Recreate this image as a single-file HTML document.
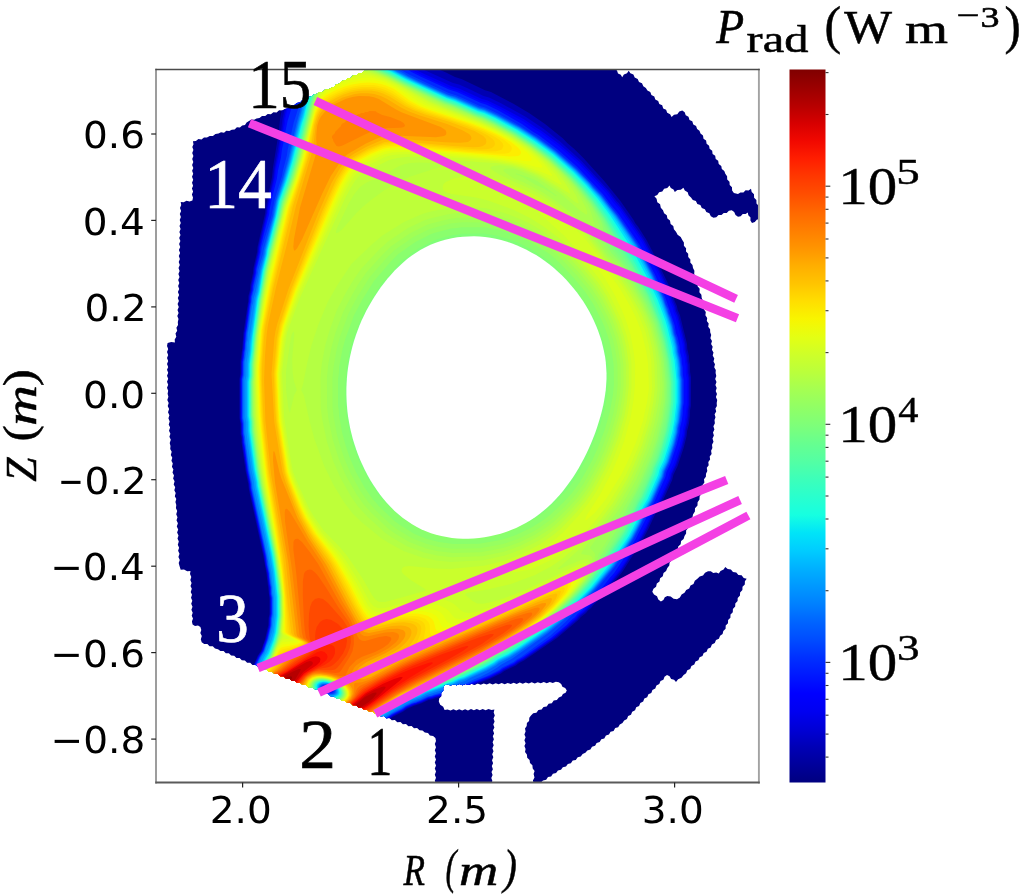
<!DOCTYPE html><html><head><meta charset="utf-8"><title>Prad</title><style>html,body{margin:0;padding:0;background:#fff}svg{display:block}text{font-family:"Liberation Serif","DejaVu Serif",serif}.tk{font-family:"DejaVu Sans","Liberation Sans",sans-serif;font-size:36.8px;fill:#000}</style></head><body>
<svg width="1025" height="895" viewBox="0 0 1025 895">
<defs>
<clipPath id="ves"><path clip-rule="evenodd" d="M370.0,69.0 367.4,70.7 364.2,70.8 361.9,73.1 358.6,73.2 356.3,75.5 353.0,75.6 350.7,77.9 347.7,78.5 345.2,80.6 341.8,81.1 339.6,83.8 336.3,84.3 334.1,86.9 331.0,88.0 328.3,89.7 325.0,89.7 322.5,91.9 319.1,91.9 316.6,94.1 313.5,94.7 311.1,96.7 307.8,97.1 305.6,99.6 302.4,100.1 300.2,102.6 296.9,103.0 294.5,105.0 291.1,105.8 288.4,108.2 285.0,109.0 282.3,110.5 279.1,110.3 276.6,112.4 273.4,112.2 270.9,114.3 267.7,114.1 265.2,116.1 262.0,116.0 259.5,118.0 256.5,118.4 254.2,119.8 251.3,119.6 249.0,121.0 246.6,122.6 245.0,125.0 242.2,125.4 239.9,127.5 236.9,127.3 234.6,129.4 231.8,129.8 229.3,131.1 226.3,130.7 224.0,132.7 221.0,132.3 218.5,133.6 215.4,134.0 212.9,136.1 209.7,135.9 207.0,137.4 204.0,137.6 201.5,139.5 198.4,139.1 195.9,141.0 192.9,141.2 193.5,144.2 192.3,147.1 193.4,150.1 192.2,153.1 193.4,156.0 192.2,159.0 193.3,162.0 192.1,164.9 193.3,167.9 192.1,170.8 193.2,173.8 192.0,176.8 193.2,179.8 192.0,182.7 193.1,185.7 191.9,188.6 193.1,191.6 191.9,194.6 193.0,197.5 192.4,200.5 189.6,201.5 186.5,200.7 183.7,202.2 180.7,202.0 181.2,205.0 180.0,208.0 181.1,211.0 179.8,214.0 180.9,217.0 179.7,220.0 180.8,223.0 179.5,226.0 180.6,229.0 179.4,232.0 180.5,235.0 179.2,238.0 180.4,241.0 179.1,244.0 180.2,247.0 178.9,250.0 180.1,253.0 178.8,256.0 179.9,259.0 178.7,262.0 179.8,265.0 178.5,268.0 179.6,271.0 178.4,274.0 179.5,277.0 178.2,280.0 179.3,283.0 178.1,286.0 179.2,289.0 177.9,292.0 179.1,295.0 177.8,298.0 178.9,301.0 177.6,304.0 178.8,307.0 177.5,310.0 178.6,313.0 177.3,316.0 178.5,319.0 177.8,322.0 178.0,325.0 176.4,327.7 177.2,330.8 175.5,333.6 176.3,336.7 174.7,339.4 174.9,342.4 171.2,342.1 167.6,343.0 167.0,346.0 168.2,349.0 167.0,351.9 168.2,354.9 167.0,357.9 168.2,360.9 167.0,363.9 168.2,366.9 167.0,369.8 168.2,372.8 167.0,375.8 168.2,378.8 167.0,381.8 168.2,384.8 167.0,387.7 168.2,390.7 167.6,393.7 168.4,396.7 167.3,399.9 168.7,402.9 167.7,406.0 169.1,409.0 168.0,412.2 169.4,415.2 168.4,418.3 169.7,421.4 168.7,424.5 170.1,427.5 169.0,430.7 170.4,433.7 169.4,436.8 170.8,439.8 169.7,443.0 170.5,446.0 170.2,449.0 171.7,451.8 170.8,454.9 172.3,457.7 171.4,460.8 172.8,463.6 171.9,466.7 173.4,469.5 172.5,472.6 174.0,475.4 173.1,478.5 174.6,481.3 173.7,484.4 175.2,487.2 174.3,490.3 175.7,493.1 174.8,496.2 176.3,499.0 175.4,502.1 176.3,505.0 175.9,508.1 177.2,511.1 176.2,514.2 177.5,517.2 176.5,520.3 177.9,523.3 176.8,526.4 178.2,529.4 177.1,532.5 178.5,535.5 177.5,538.6 178.8,541.6 177.8,544.7 179.1,547.7 178.1,550.8 179.5,553.8 178.4,556.9 179.8,559.9 178.7,563.0 179.5,566.0 180.7,569.7 184.0,569.5 187.2,571.2 190.5,571.0 190.0,574.0 191.3,576.9 190.3,580.0 191.6,582.9 190.5,585.9 191.8,588.8 190.7,591.9 192.0,594.8 191.0,597.8 192.3,600.8 191.2,603.8 192.5,606.7 191.4,609.7 192.7,612.7 191.7,615.7 193.0,618.6 191.9,621.6 192.6,624.6 195.0,626.0 198.0,625.6 200.4,627.0 201.3,630.0 200.3,633.1 201.8,636.1 200.8,639.2 201.7,642.2 204.2,643.9 207.4,644.0 209.6,646.3 212.8,646.3 215.0,648.6 218.0,649.2 220.4,650.9 223.6,651.0 225.8,653.3 228.9,653.3 231.1,655.6 234.2,655.7 236.4,658.0 239.6,658.0 241.8,660.3 244.9,660.4 247.1,662.7 250.2,662.7 252.4,665.0 255.6,665.1 258.0,666.8 261.0,667.4 263.4,669.6 266.7,669.6 269.0,671.8 272.3,671.8 274.7,674.0 277.9,674.0 280.3,676.2 283.6,676.2 285.9,678.5 289.2,678.5 291.6,680.7 294.8,680.7 297.2,682.9 300.4,682.9 302.8,685.1 306.1,685.1 308.4,687.3 311.7,687.3 314.3,689.0 317.3,689.6 319.6,691.8 322.8,691.8 325.2,694.0 328.4,694.1 330.7,696.3 333.9,696.3 336.3,698.5 339.5,698.5 341.8,700.8 345.0,700.8 347.3,703.0 350.6,703.0 352.9,705.3 356.1,705.3 358.4,707.5 361.7,707.5 364.0,709.8 367.2,709.8 369.5,712.0 372.8,712.0 375.3,713.7 378.3,714.1 380.7,716.3 383.8,716.1 386.2,718.2 389.4,718.1 391.8,720.2 394.9,720.1 397.3,722.2 400.5,722.1 402.9,724.2 406.0,724.1 408.4,726.2 411.6,726.1 414.0,728.2 417.1,728.0 419.5,730.2 422.5,730.6 424.8,732.6 428.0,733.0 429.9,735.6 433.1,736.0 435.4,738.0 436.0,741.1 434.8,744.1 436.0,747.2 434.8,750.2 436.0,753.3 434.8,756.4 436.0,759.4 434.8,762.5 436.0,765.5 434.8,768.6 436.0,771.6 434.8,774.7 436.0,777.8 434.8,780.8 436.0,783.9 434.8,786.9 435.4,790.0 438.4,790.6 441.4,789.4 444.4,790.6 447.5,789.4 450.5,790.6 453.5,789.4 456.5,790.6 459.5,789.4 462.5,790.6 465.5,789.4 468.6,790.6 471.6,789.4 474.6,790.6 477.6,789.4 480.6,790.6 483.6,789.4 486.6,790.6 489.7,789.4 492.7,790.6 495.7,789.4 498.7,790.6 501.7,789.4 504.7,790.6 507.7,789.4 510.8,790.6 513.8,789.4 516.8,790.6 519.8,789.4 522.8,790.6 525.8,789.4 528.8,790.6 531.9,789.4 534.9,790.6 537.9,789.4 540.9,790.0 540.3,786.2 540.9,782.5 543.0,780.4 546.2,779.7 548.0,777.1 551.1,776.4 552.9,773.8 556.1,773.1 557.9,770.5 561.0,769.8 562.8,767.2 566.0,766.5 567.8,763.9 570.9,763.2 572.7,760.6 575.8,759.9 577.7,757.3 580.8,756.6 582.6,754.0 585.4,752.8 587.3,750.5 590.4,749.5 592.0,746.7 595.1,745.8 596.6,743.0 599.7,742.1 601.3,739.3 604.3,738.4 605.9,735.6 609.0,734.6 610.5,731.8 613.6,730.9 615.2,728.1 618.2,727.2 619.8,724.4 622.5,723.0 624.1,720.4 627.0,719.0 628.1,716.0 631.0,714.7 632.2,711.7 635.1,710.3 636.2,707.3 639.1,706.0 640.3,703.0 643.2,701.6 644.3,698.6 647.2,697.2 648.4,694.2 651.3,692.9 652.4,689.9 655.3,688.5 656.4,685.5 659.3,684.1 660.5,681.1 663.4,679.8 664.5,676.8 667.0,675.0 669.6,676.3 671.1,679.0 674.1,679.8 676.0,682.0 678.1,679.2 681.5,677.8 683.6,675.0 686.1,673.3 687.3,670.3 690.2,668.9 691.4,666.0 694.3,664.6 695.5,661.6 698.4,660.3 699.6,657.3 702.5,656.0 703.7,653.0 706.6,651.7 707.8,648.7 710.7,647.4 711.9,644.4 714.8,643.0 716.0,640.1 718.9,638.7 720.1,635.7 722.6,634.0 723.3,631.0 725.6,628.7 725.7,625.5 728.0,623.2 728.1,620.0 730.4,617.7 730.5,614.4 732.8,612.2 732.9,608.9 735.2,606.6 735.3,603.4 737.6,601.1 737.7,597.9 740.0,595.6 740.1,592.4 742.4,590.1 742.5,586.8 744.8,584.6 744.9,581.3 746.7,578.8 743.7,577.9 741.6,575.3 738.4,574.9 736.3,572.4 733.0,572.0 730.9,569.4 727.7,569.0 725.3,567.0 723.6,569.6 720.5,570.9 718.8,573.5 716.2,572.4 713.3,573.0 710.8,571.3 708.0,571.3 705.0,572.7 703.0,575.5 699.7,576.4 697.4,578.8 694.8,580.7 693.5,583.9 690.5,585.4 689.2,588.5 686.2,590.1 684.5,592.8 681.6,594.5 679.9,597.5 677.0,599.2 673.6,598.7 670.7,596.5 667.3,596.0 664.8,597.3 663.4,600.1 660.9,601.4 658.3,599.4 657.0,596.2 654.0,594.5 652.3,591.7 653.5,588.7 656.1,586.8 656.8,583.5 659.5,581.5 660.1,578.2 662.8,576.2 663.5,572.9 666.1,571.0 667.3,568.0 669.3,565.6 669.6,562.4 672.1,560.3 672.5,557.0 675.0,555.0 675.4,551.7 677.9,549.6 678.2,546.4 680.7,544.3 681.1,541.0 683.6,539.0 684.5,536.0 686.1,533.5 686.1,530.4 688.2,528.1 688.2,525.0 690.4,522.7 690.3,519.6 692.5,517.3 693.0,514.4 694.9,511.6 695.0,508.2 697.5,505.6 697.6,502.2 699.5,499.4 699.6,496.4 701.5,493.8 701.1,490.7 703.0,488.1 702.5,485.0 704.4,482.4 704.0,479.3 705.9,476.7 706.0,473.7 707.3,471.0 706.8,467.8 708.7,465.3 708.3,462.1 710.1,459.6 709.7,456.4 711.6,453.9 711.1,450.7 712.4,448.0 712.0,444.8 713.5,441.8 712.5,438.6 713.9,435.6 713.0,432.4 714.4,429.4 713.4,426.2 714.9,423.2 714.5,420.0 715.5,417.2 714.6,414.3 716.2,411.6 715.4,408.6 716.9,405.9 716.7,403.0 717.2,400.0 715.9,397.0 717.0,394.0 715.7,391.0 716.7,388.0 715.4,385.0 716.5,382.0 715.2,379.0 716.3,376.0 715.6,373.0 715.8,370.0 714.2,367.3 715.0,364.2 713.5,361.5 714.3,358.4 712.7,355.6 713.5,352.6 711.9,349.8 712.7,346.8 711.1,344.0 712.0,340.9 710.4,338.2 711.2,335.1 710.2,332.3 710.1,329.3 708.2,326.7 708.7,323.6 706.8,321.0 707.2,317.9 705.4,315.3 705.8,312.1 704.0,309.6 704.4,306.4 702.5,303.9 703.0,300.7 701.7,298.0 701.4,294.8 699.4,292.2 699.7,288.8 697.6,286.2 697.9,282.8 695.9,280.2 696.2,276.8 694.2,274.2 694.4,270.8 693.0,268.0 692.5,265.0 690.3,262.6 690.4,259.4 688.2,257.0 688.2,253.8 686.0,251.4 686.1,248.2 683.9,245.8 683.9,242.6 682.3,240.0 680.7,236.9 677.6,234.8 676.0,231.7 673.9,229.3 673.3,226.0 670.6,223.9 670.0,220.6 667.4,218.6 666.8,215.3 664.1,213.2 663.0,210.2 660.8,207.7 660.1,204.3 657.3,202.2 656.6,198.8 654.4,196.3 657.3,195.0 659.1,192.2 662.3,191.4 664.1,188.7 667.3,187.9 669.5,185.6 670.8,188.1 673.5,189.5 674.8,192.0 677.4,190.0 680.8,189.7 683.4,187.7 684.8,190.5 687.7,192.2 688.6,195.3 691.0,197.4 692.8,199.9 695.9,201.0 697.3,204.0 700.4,205.1 701.8,208.0 704.9,209.2 706.3,212.1 709.4,213.3 710.8,216.2 713.5,217.8 716.3,217.3 718.5,215.1 721.5,215.1 723.7,212.9 726.7,212.9 728.9,210.7 731.7,210.2 734.2,211.9 735.5,215.0 738.0,216.7 740.7,216.2 742.7,214.0 745.6,214.0 747.8,212.4 748.3,215.3 750.5,217.5 750.4,220.6 752.0,223.0 754.8,222.1 756.7,219.7 759.5,218.8 758.9,215.5 760.1,212.3 759.5,209.0 758.8,205.9 756.5,203.5 756.4,200.1 754.1,197.7 754.0,194.3 751.7,191.9 751.0,188.8 748.6,190.4 745.6,190.3 743.4,192.5 740.4,192.4 738.0,194.0 733.9,193.1 732.1,190.6 732.0,187.3 729.7,185.1 729.5,181.8 727.2,179.6 727.1,176.3 725.3,173.8 724.3,171.0 721.8,169.0 721.3,165.9 718.7,164.0 718.2,160.8 715.7,158.9 715.2,155.8 712.6,153.9 712.2,150.7 709.6,148.8 709.1,145.7 706.6,143.8 706.1,140.6 703.5,138.7 703.0,135.6 700.5,133.6 699.5,130.8 697.1,128.9 696.1,125.9 693.3,124.4 692.3,121.3 689.5,119.9 688.5,116.8 685.7,115.3 684.7,112.3 682.3,110.4 679.3,111.5 677.3,114.2 674.0,114.8 671.6,116.9 670.1,114.3 667.2,112.8 666.1,109.8 663.2,108.4 662.2,105.3 659.3,103.9 658.2,100.9 655.3,99.5 654.3,96.4 651.4,95.0 650.3,92.0 647.4,90.5 645.9,87.9 643.3,86.2 642.0,83.2 639.0,81.9 637.7,78.9 634.7,77.6 633.4,74.6 630.4,73.3 628.7,70.7 627.0,73.3 623.9,74.6 622.2,77.2 620.8,74.7 618.0,73.5 617.0,70.6 614.7,69.0 611.7,68.4 608.7,69.6 605.7,68.4 602.8,69.6 599.8,68.4 596.8,69.6 593.8,68.4 590.8,69.6 587.8,68.4 584.9,69.6 581.9,68.4 578.9,69.6 575.9,68.4 572.9,69.6 569.9,68.4 567.0,69.6 564.0,68.4 561.0,69.6 558.0,68.4 555.0,69.6 552.0,68.4 549.0,69.6 546.1,68.4 543.1,69.6 540.1,68.4 537.1,69.6 534.1,68.4 531.1,69.6 528.2,68.4 525.2,69.6 522.2,68.4 519.2,69.6 516.2,68.4 513.2,69.6 510.3,68.4 507.3,69.6 504.3,68.4 501.3,69.6 498.3,68.4 495.3,69.6 492.4,68.4 489.4,69.6 486.4,68.4 483.4,69.6 480.4,68.4 477.4,69.6 474.4,68.4 471.5,69.6 468.5,68.4 465.5,69.6 462.5,68.4 459.5,69.6 456.5,68.4 453.6,69.6 450.6,68.4 447.6,69.6 444.6,68.4 441.6,69.6 438.6,68.4 435.7,69.6 432.7,68.4 429.7,69.6 426.7,68.4 423.7,69.6 420.7,68.4 417.7,69.6 414.8,68.4 411.8,69.6 408.8,68.4 405.8,69.6 402.8,68.4 399.8,69.6 396.9,68.4 393.9,69.6 390.9,68.4 387.9,69.6 384.9,68.4 381.9,69.6 379.0,68.4 376.0,69.6 373.0,68.4ZM444.6,685.0 447.6,684.3 450.6,685.5 453.6,684.2 456.6,685.3 459.6,684.0 462.6,685.2 465.6,683.9 468.7,685.0 471.6,683.8 474.7,684.9 477.6,683.6 480.7,684.7 483.7,683.5 486.7,684.6 489.7,683.3 492.7,684.5 495.7,683.2 498.7,684.3 501.7,683.1 504.7,684.2 507.7,682.9 510.7,684.0 513.7,682.8 516.7,683.9 519.7,682.6 522.8,683.8 525.7,682.5 528.8,683.6 531.7,682.3 534.8,683.5 537.7,682.2 540.8,683.3 543.8,682.1 546.8,683.2 549.8,681.9 552.8,683.0 555.8,681.8 558.8,682.3 561.2,683.9 562.4,686.8 565.2,688.0 566.8,690.5 565.6,692.8 562.9,694.0 561.7,696.3 558.8,697.4 556.9,700.0 553.7,700.6 551.8,703.2 548.6,703.7 546.7,706.4 543.5,706.9 541.6,709.5 538.4,710.1 536.4,712.7 533.2,713.3 531.0,715.4 529.3,717.8 529.1,720.9 526.9,723.0 526.7,726.1 525.0,728.5 525.6,731.4 524.4,734.4 525.6,737.3 524.4,740.2 525.6,743.2 524.4,746.1 525.6,749.1 525.0,752.0 526.9,754.4 527.2,757.7 529.6,759.9 530.0,763.1 532.4,765.3 532.7,768.6 534.6,771.0 533.6,774.1 534.5,777.4 532.9,780.4 533.7,783.7 532.2,786.8 532.4,790.0 529.5,789.4 526.6,790.6 523.6,789.4 520.7,790.6 517.8,789.4 514.9,790.6 511.9,789.4 509.0,790.6 506.1,789.4 503.2,790.6 500.3,789.4 497.3,790.6 494.4,789.4 491.5,790.0 492.2,787.0 491.1,784.0 492.4,781.1 491.3,778.1 492.6,775.1 491.5,772.1 492.9,769.2 491.8,766.1 493.1,763.2 492.0,760.2 493.3,757.2 492.2,754.2 493.5,751.3 492.4,748.2 493.7,745.3 492.6,742.3 493.9,739.3 492.8,736.3 494.1,733.4 493.0,730.3 494.4,727.4 493.3,724.4 494.6,721.4 493.5,718.4 494.8,715.5 493.7,712.5 494.4,709.5 491.5,710.1 488.5,709.0 485.6,710.2 482.7,709.0 479.8,710.2 476.8,709.1 473.9,710.3 471.0,709.1 468.0,710.4 465.1,709.2 462.2,710.4 459.2,709.3 456.3,710.5 453.4,709.3 450.5,710.5 447.5,709.4 444.6,710.0 443.2,706.8 440.2,704.7 438.8,701.5 439.2,698.6 441.3,696.2 441.1,693.1 443.2,690.7 443.1,687.6Z"/></clipPath>
<clipPath id="frm"><rect x="156.0" y="69.5" width="602.9" height="713.0"/></clipPath>
<linearGradient id="jet" x1="0" y1="0" x2="0" y2="1"><stop offset="0.000" stop-color="#800000"/><stop offset="0.025" stop-color="#9b0000"/><stop offset="0.050" stop-color="#b60000"/><stop offset="0.075" stop-color="#d60000"/><stop offset="0.100" stop-color="#f10800"/><stop offset="0.125" stop-color="#ff1e00"/><stop offset="0.150" stop-color="#ff3800"/><stop offset="0.175" stop-color="#ff4e00"/><stop offset="0.200" stop-color="#ff6800"/><stop offset="0.225" stop-color="#ff7e00"/><stop offset="0.250" stop-color="#ff9400"/><stop offset="0.275" stop-color="#ffae00"/><stop offset="0.300" stop-color="#ffc400"/><stop offset="0.325" stop-color="#ffde00"/><stop offset="0.350" stop-color="#f8f500"/><stop offset="0.375" stop-color="#e4ff13"/><stop offset="0.400" stop-color="#ceff29"/><stop offset="0.425" stop-color="#baff3c"/><stop offset="0.450" stop-color="#a4ff53"/><stop offset="0.475" stop-color="#90ff66"/><stop offset="0.500" stop-color="#7dff7a"/><stop offset="0.525" stop-color="#66ff90"/><stop offset="0.550" stop-color="#53ffa4"/><stop offset="0.575" stop-color="#3cffba"/><stop offset="0.600" stop-color="#29ffce"/><stop offset="0.625" stop-color="#16ffe1"/><stop offset="0.650" stop-color="#00e4f8"/><stop offset="0.675" stop-color="#00ccff"/><stop offset="0.700" stop-color="#00b0ff"/><stop offset="0.725" stop-color="#0098ff"/><stop offset="0.750" stop-color="#0080ff"/><stop offset="0.775" stop-color="#0064ff"/><stop offset="0.800" stop-color="#004cff"/><stop offset="0.825" stop-color="#0030ff"/><stop offset="0.850" stop-color="#0018ff"/><stop offset="0.875" stop-color="#0000ff"/><stop offset="0.900" stop-color="#0000f1"/><stop offset="0.925" stop-color="#0000d6"/><stop offset="0.950" stop-color="#0000b6"/><stop offset="0.975" stop-color="#00009b"/><stop offset="1.000" stop-color="#000080"/></linearGradient>
</defs>
<rect width="1025" height="895" fill="#fff"/>
<g clip-path="url(#frm)"><g clip-path="url(#ves)">
<rect x="150" y="60" width="620" height="730" fill="#000080"/>
<path fill="#0000b2" d="M328.2,31.0 330.6,30.0 356.7,30.0 360.0,31.5 365.0,32.6 382.0,39.7 387.0,43.0 394.0,46.0 398.0,48.7 404.0,51.7 419.5,61.0 446.0,72.5 455.0,77.0 462.0,79.3 485.0,90.3 491.0,92.1 513.0,103.5 529.0,112.9 545.0,124.1 563.0,138.6 567.2,143.0 574.0,148.7 583.4,158.0 604.0,180.8 620.4,201.0 633.6,220.0 635.1,223.0 638.3,227.0 646.5,240.0 652.3,251.0 669.7,287.0 672.6,294.0 674.7,301.0 676.9,306.0 677.7,310.0 679.9,315.0 687.0,344.0 687.3,349.0 689.0,356.0 689.2,361.0 689.9,364.0 690.1,372.0 691.0,377.0 690.9,406.0 690.1,410.0 689.9,416.0 688.9,424.0 687.1,431.0 686.6,436.0 683.6,448.0 677.6,466.0 673.3,475.0 672.2,480.0 661.2,504.0 658.7,509.0 655.0,514.5 648.3,529.0 640.8,543.0 622.2,572.0 603.4,595.0 593.4,605.0 591.1,608.0 588.0,610.4 586.0,613.0 580.9,617.0 578.0,620.3 557.0,638.0 524.0,660.5 519.2,663.0 516.0,665.5 504.3,671.0 501.0,673.4 489.0,679.3 473.7,685.0 467.0,688.2 462.7,689.0 456.0,692.2 451.6,693.0 446.0,695.5 443.0,695.9 432.0,699.5 428.6,700.0 421.0,703.6 413.5,706.0 406.8,709.0 403.0,711.7 393.0,716.8 388.6,720.0 387.8,721.0 387.6,726.0 386.7,730.0 386.6,742.0 385.7,746.0 385.6,758.0 384.7,762.0 384.6,774.0 383.7,778.0 383.6,790.0 382.7,794.0 382.6,800.0 369.0,800.0 201.0,762.4 199.0,761.6 198.1,760.0 199.1,757.0 237.0,700.1 256.0,660.1 257.5,656.0 261.0,651.0 265.0,639.2 268.3,625.0 268.6,618.0 269.5,614.0 269.5,599.0 266.5,574.0 263.3,556.0 248.8,489.0 248.3,484.0 245.6,471.0 241.6,443.0 241.5,438.0 240.6,434.0 240.5,424.0 239.5,418.0 239.5,379.0 240.4,374.0 240.5,361.0 242.3,348.0 243.4,333.0 248.2,301.0 248.4,296.0 250.0,290.0 250.4,285.0 253.0,273.0 253.4,268.0 257.1,252.0 257.5,247.0 265.2,213.0 265.6,208.0 272.0,177.3 272.9,168.0 278.3,135.0 280.2,118.0 283.5,100.0 287.2,85.0 292.6,71.0 298.4,59.0 303.0,51.3 307.8,45.0 317.0,36.3 324.0,32.4Z"/>
<path fill="#0000d6" d="M333.3,35.0 337.0,34.2 345.0,34.0 355.0,35.9 364.0,38.4 380.0,45.3 383.9,48.0 391.0,51.1 404.0,59.1 411.0,62.7 414.1,65.0 422.1,69.0 453.0,82.9 459.0,84.6 467.0,88.1 483.6,96.0 489.0,97.5 501.0,103.2 526.0,117.0 542.5,128.0 560.6,142.0 581.0,160.4 609.0,190.7 616.7,201.0 618.8,203.0 640.4,234.0 644.9,241.0 651.3,253.0 668.2,288.0 675.5,307.0 676.0,310.5 678.5,316.0 685.4,344.0 685.8,350.0 687.5,357.0 687.6,361.0 688.5,365.0 688.6,373.0 689.5,377.0 689.5,405.0 688.6,410.0 688.5,416.0 687.5,423.0 685.7,430.0 685.3,435.0 682.3,447.0 676.3,465.0 672.0,474.0 670.9,479.0 659.5,504.0 657.5,508.0 654.0,513.1 646.6,529.0 639.6,542.0 621.1,571.0 602.3,594.0 585.0,612.0 579.8,616.0 577.0,619.4 556.0,637.2 524.0,659.2 518.7,662.0 515.0,664.8 503.9,670.0 500.0,672.8 489.0,678.2 473.6,684.0 467.0,687.2 462.8,688.0 455.0,691.6 451.8,692.0 446.0,694.6 435.8,697.0 432.0,698.6 428.8,699.0 422.0,702.2 413.8,705.0 406.9,708.0 403.0,710.8 393.0,715.8 387.3,720.0 385.8,730.0 385.7,742.0 384.8,746.0 384.7,758.0 383.8,762.0 383.7,774.0 382.8,778.0 382.7,790.0 381.8,794.0 381.7,800.0 371.0,799.8 365.0,797.9 209.0,763.5 200.0,761.3 199.0,760.0 200.0,757.0 238.0,699.7 258.3,656.0 262.0,650.4 263.4,645.0 266.0,638.4 269.1,625.0 269.3,618.0 270.2,614.0 270.2,598.0 269.3,594.0 269.1,587.0 268.3,584.0 267.1,573.0 265.5,566.0 264.1,556.0 249.5,489.0 249.1,484.0 246.3,471.0 246.1,467.0 242.3,443.0 242.1,437.0 241.3,434.0 241.2,424.0 240.3,419.0 240.3,379.0 241.2,374.0 241.3,361.0 242.1,358.0 242.2,352.0 243.2,348.0 243.2,342.0 244.0,339.0 244.2,333.0 245.0,330.0 248.3,304.0 249.0,301.7 249.3,296.0 251.0,289.9 251.3,285.0 254.0,273.0 254.4,268.0 258.1,252.0 258.5,247.0 266.4,213.0 266.8,208.0 273.2,178.0 274.4,168.0 280.5,135.0 282.5,119.0 286.3,101.0 290.3,86.0 295.5,73.0 301.6,61.0 306.0,54.0 311.0,47.7 320.0,39.8 326.0,36.8Z"/>
<path fill="#0000f6" d="M337.3,37.0 344.0,36.9 354.0,38.9 358.0,40.4 362.0,41.1 370.0,44.4 378.0,48.0 382.4,51.0 389.0,53.9 392.0,56.1 399.0,59.7 402.0,62.0 409.0,65.6 412.1,68.0 422.2,73.0 451.0,86.0 459.0,88.5 482.0,99.1 487.0,100.3 500.0,106.4 524.0,119.3 536.0,127.6 541.0,130.4 559.2,144.0 580.0,162.3 608.0,192.0 615.3,202.0 620.0,207.2 643.3,241.0 650.0,253.4 667.0,288.5 670.2,296.0 671.8,302.0 674.2,307.0 674.8,311.0 677.1,316.0 684.3,345.0 684.5,350.0 686.3,357.0 686.5,362.0 687.3,365.0 687.4,373.0 688.4,378.0 688.4,405.0 687.5,409.0 687.3,416.0 686.5,419.0 686.3,423.0 684.5,430.0 684.3,434.0 681.1,447.0 675.1,465.0 670.8,474.0 670.0,478.2 658.7,503.0 656.2,508.0 653.3,512.0 646.0,527.7 638.4,542.0 636.0,545.0 628.4,558.0 620.0,570.7 601.9,593.0 584.6,611.0 579.0,615.5 576.1,619.0 573.0,621.2 567.0,627.1 560.4,632.0 552.0,639.2 523.0,658.9 518.0,661.6 514.0,664.5 503.0,669.7 500.0,671.9 489.0,677.5 473.0,683.6 467.0,686.5 462.0,687.6 455.0,690.9 451.0,691.6 446.0,693.9 428.0,698.7 422.0,701.6 413.0,704.7 406.0,707.8 403.0,710.1 393.3,715.0 387.0,719.4 386.3,721.0 386.2,726.0 385.3,730.0 385.2,741.0 384.3,746.0 384.2,757.0 383.3,762.0 383.2,773.0 382.3,778.0 382.2,789.0 381.3,794.0 381.1,800.0 375.1,800.0 365.0,797.4 209.0,762.9 201.0,761.0 199.7,760.0 200.6,757.0 238.0,700.8 258.4,657.0 262.3,651.0 266.3,639.0 269.6,625.0 269.8,618.0 270.7,614.0 270.7,598.0 269.8,594.0 269.7,588.0 267.6,573.0 265.8,565.0 264.6,556.0 249.9,488.0 249.6,484.0 246.9,471.0 242.9,443.0 242.6,437.0 241.9,434.0 241.8,424.0 240.8,419.0 240.8,379.0 241.7,374.0 241.8,361.0 243.7,348.0 244.8,333.0 249.5,302.0 249.8,297.0 251.6,290.0 251.8,286.0 254.7,273.0 254.9,269.0 258.8,252.0 259.3,247.0 267.2,213.0 267.4,209.0 274.1,178.0 275.2,169.0 278.8,152.0 280.2,142.0 281.7,136.0 284.0,119.0 288.0,101.0 291.9,87.0 299.6,69.0 308.1,55.0 313.0,49.2 320.0,43.0 324.0,40.6 327.0,39.3ZM327.0,687.8 326.2,688.0 326.0,689.0 327.0,690.0 329.0,690.4 330.0,690.0 329.9,689.0 329.0,688.3Z"/>
<path fill="#0008ff" d="M336.2,39.0 344.0,38.8 353.0,40.7 357.0,42.2 361.0,42.8 368.6,46.0 377.0,49.7 381.0,52.5 388.0,55.6 391.2,58.0 398.0,61.4 401.4,64.0 408.0,67.3 411.6,70.0 422.0,75.2 451.0,88.5 458.0,90.5 482.0,101.5 487.0,102.6 500.0,108.8 524.0,121.8 535.0,129.5 540.0,132.2 558.5,146.0 579.0,164.0 606.0,192.7 613.6,203.0 618.2,208.0 641.8,242.0 649.0,255.3 665.0,288.3 668.3,296.0 670.4,303.0 672.7,308.0 673.4,312.0 675.7,317.0 682.7,345.0 683.1,351.0 684.8,358.0 685.0,362.0 685.8,366.0 685.9,374.0 686.8,378.0 686.9,404.0 684.8,422.0 683.1,429.0 682.6,434.0 679.6,446.0 674.0,463.1 669.4,473.0 668.0,479.0 657.0,503.4 655.0,507.3 652.3,511.0 645.0,527.0 637.0,542.0 635.3,544.0 627.1,558.0 619.2,570.0 600.5,593.0 583.3,611.0 578.0,615.2 575.9,618.0 555.0,636.0 523.0,658.2 518.0,660.8 514.0,663.7 503.0,668.9 500.0,671.2 488.6,677.0 473.0,682.9 466.0,686.3 462.0,687.0 455.0,690.3 451.1,691.0 446.0,693.4 443.0,693.8 432.0,697.4 428.0,698.1 421.0,701.5 413.0,704.2 406.0,707.3 403.0,709.5 392.3,715.0 386.7,719.0 385.8,721.0 385.7,726.0 384.8,730.0 384.7,741.0 383.8,746.0 383.7,757.0 382.7,762.0 382.7,773.0 381.7,778.0 381.7,789.0 380.8,793.0 380.3,800.0 376.5,800.0 374.0,798.9 365.0,796.8 209.0,762.5 201.0,760.5 200.2,759.0 238.4,701.0 258.8,657.0 262.7,651.0 267.0,638.2 270.1,625.0 270.2,618.0 271.1,614.0 271.1,598.0 270.2,594.0 270.1,587.0 269.3,584.0 268.1,573.0 266.3,565.0 265.1,556.0 250.3,488.0 250.1,484.0 247.3,471.0 244.1,446.0 243.3,443.0 243.1,437.0 242.3,434.0 242.2,424.0 241.2,419.0 241.2,379.0 242.2,374.0 242.3,361.0 243.1,358.0 243.3,352.0 244.1,349.0 245.3,333.0 246.1,330.0 249.2,305.0 250.1,302.0 250.3,297.0 252.1,290.0 252.4,286.0 255.3,273.0 255.5,269.0 259.5,252.0 259.7,248.0 267.8,214.0 268.3,209.0 275.1,178.0 276.3,169.0 279.9,152.0 280.1,148.0 282.8,136.0 283.0,132.0 284.9,124.0 285.1,120.0 289.2,102.0 293.6,87.0 299.0,74.1 305.0,62.9 309.5,56.0 314.0,50.8 323.3,43.0 327.6,41.0ZM325.0,686.8 324.0,688.0 324.3,689.0 326.0,690.7 329.0,691.8 331.7,691.0 331.6,689.0 330.0,687.5 327.0,686.5Z"/>
<path fill="#0028ff" d="M340.2,42.0 343.0,42.0 352.0,43.7 356.0,45.0 360.0,45.6 376.0,52.0 380.0,54.6 387.0,57.6 390.0,59.7 396.9,63.0 400.0,65.3 407.3,69.0 411.0,71.7 421.0,76.7 449.0,89.6 457.0,92.1 481.0,103.1 486.0,104.4 497.5,110.0 522.0,123.9 533.3,132.0 538.5,135.0 557.0,148.9 577.4,167.0 602.8,194.0 611.0,205.0 618.6,214.0 639.7,245.0 654.7,274.0 665.5,298.0 674.6,325.0 676.0,333.0 677.6,337.0 679.6,346.0 680.0,352.0 681.6,358.0 682.0,364.0 682.7,367.0 682.9,375.0 683.8,380.0 683.8,403.0 683.0,407.0 682.7,414.0 681.8,421.0 680.0,428.0 679.6,433.0 676.6,445.0 670.7,463.0 666.5,472.0 665.4,477.0 654.3,502.0 649.0,511.0 645.7,519.0 635.7,539.0 625.5,556.0 614.2,573.0 609.7,578.0 599.0,592.0 582.3,610.0 577.5,614.0 575.0,617.3 572.0,619.5 566.6,625.0 550.9,638.0 523.0,657.2 517.0,660.6 513.9,663.0 503.0,668.2 499.1,671.0 489.0,676.1 473.0,682.3 466.0,685.7 462.0,686.4 455.0,689.7 451.0,690.4 446.0,692.8 435.0,695.5 431.6,697.0 428.0,697.6 421.0,700.9 413.0,703.6 406.0,706.7 403.0,709.0 392.0,714.7 386.0,719.0 384.3,730.0 384.3,741.0 383.3,746.0 383.2,757.0 382.3,762.0 382.2,773.0 381.3,778.0 381.2,790.0 380.3,793.0 380.0,798.8 379.0,799.8 210.0,762.3 201.2,760.0 200.7,759.0 239.4,700.0 259.3,657.0 263.1,651.0 267.2,639.0 270.5,625.0 270.6,618.0 271.5,614.0 271.5,598.0 270.6,594.0 270.5,587.0 269.7,584.0 268.5,573.0 266.7,565.0 265.5,556.0 250.7,488.0 250.5,484.0 247.7,471.0 244.5,446.0 243.7,443.0 243.5,437.0 242.7,434.0 242.6,424.0 241.7,419.0 241.7,379.0 242.5,375.0 242.6,362.0 243.5,358.0 243.7,352.0 244.5,349.0 245.7,333.0 246.5,330.0 249.7,305.0 250.6,302.0 250.8,297.0 252.7,290.0 252.9,286.0 255.9,273.0 256.1,269.0 257.8,263.0 260.2,252.0 260.5,248.0 263.9,234.0 269.2,214.0 269.5,210.0 271.8,199.0 276.8,179.0 278.1,170.0 280.9,158.0 282.0,149.0 284.8,137.0 285.1,133.0 287.6,121.0 291.8,107.0 299.0,87.0 303.7,76.0 309.4,65.0 313.7,58.0 319.0,52.1 326.0,46.2 333.0,43.5ZM324.0,686.0 322.9,687.0 322.7,688.0 323.7,690.0 325.0,691.1 327.0,692.2 330.0,692.7 332.0,692.3 333.0,691.5 333.2,690.0 332.8,689.0 330.7,687.0 327.0,685.7Z"/>
<path fill="#0044ff" d="M338.9,48.0 342.0,47.7 358.0,50.7 373.0,56.2 395.0,66.6 410.1,75.0 435.6,87.0 448.7,93.0 456.0,95.2 463.0,98.2 479.8,106.0 485.0,107.4 498.0,113.6 520.0,125.7 532.4,134.0 537.0,136.5 556.0,150.4 577.0,168.7 601.9,195.0 610.0,205.9 617.6,215.0 638.1,245.0 653.7,275.0 663.7,297.0 666.0,304.4 668.1,309.0 669.0,313.3 671.1,318.0 673.4,326.0 674.9,334.0 676.4,338.0 678.4,347.0 678.7,352.0 680.4,359.0 681.4,367.0 681.6,375.0 682.5,380.0 682.5,403.0 680.4,421.0 678.7,428.0 678.4,432.0 675.2,445.0 669.3,463.0 665.0,472.0 663.9,477.0 652.7,502.0 648.0,509.5 641.4,524.0 633.5,539.0 614.9,567.0 596.0,590.1 565.0,622.6 550.0,636.0 521.1,657.0 517.0,659.2 513.4,662.0 502.0,667.5 498.9,670.0 487.1,676.0 473.0,681.5 465.8,685.0 462.0,685.6 455.0,689.0 451.0,689.8 446.0,692.1 428.0,697.0 416.0,702.4 412.0,703.5 406.0,706.2 402.1,709.0 392.0,714.1 386.0,718.3 385.0,720.0 384.6,726.0 383.8,730.0 383.7,741.0 382.7,746.0 382.7,757.0 381.7,762.0 381.7,773.0 380.7,778.0 380.7,789.0 379.4,798.0 379.0,798.7 378.0,798.8 210.0,761.8 202.0,759.7 201.3,759.0 203.0,755.8 239.4,701.0 259.7,657.0 263.6,651.0 267.6,639.0 270.7,626.0 271.0,618.5 271.9,614.0 271.9,598.0 271.1,594.0 270.9,587.0 270.1,584.0 268.9,573.0 267.1,565.0 265.8,555.0 251.2,488.0 251.0,484.0 248.2,471.0 243.1,433.0 243.1,424.0 242.1,418.0 242.1,379.0 243.0,375.0 243.1,362.0 245.0,349.0 246.2,333.0 251.1,302.0 251.4,297.0 253.3,290.0 253.6,286.0 256.7,273.0 256.9,269.0 261.1,253.0 261.8,248.0 271.0,217.7 274.5,200.0 282.0,175.7 282.8,171.0 287.0,155.0 287.6,150.0 293.6,123.0 304.4,89.0 309.3,77.0 318.4,61.0 323.0,56.1 329.0,51.0ZM325.0,684.9 323.0,685.5 321.7,687.0 322.0,689.0 323.7,691.0 326.0,692.5 329.0,693.4 332.0,693.3 334.0,692.1 334.3,690.0 332.0,687.1 329.0,685.5Z"/>
<path fill="#0064ff" d="M337.9,50.0 341.0,49.4 350.0,50.7 358.0,52.5 366.0,55.3 384.0,63.3 404.0,73.4 407.9,76.0 433.6,88.0 449.0,94.9 455.0,96.6 462.0,99.5 479.0,107.3 484.0,108.5 497.0,114.5 520.0,126.9 537.0,137.7 555.0,150.8 576.0,168.9 589.9,183.0 593.0,187.0 601.0,195.2 616.6,215.0 637.1,245.0 653.3,276.0 663.2,298.0 665.0,304.0 667.2,309.0 668.0,313.0 670.2,318.0 672.5,326.0 674.0,333.9 675.5,338.0 677.5,347.0 677.8,352.0 679.5,359.0 680.5,367.0 680.7,375.0 681.6,380.0 681.6,403.0 679.5,421.0 677.8,428.0 677.5,432.0 674.6,444.0 668.7,462.0 664.5,471.0 663.0,477.0 652.2,501.0 647.0,509.6 640.4,524.0 632.4,539.0 614.0,566.4 594.3,590.0 578.0,606.6 573.8,610.0 563.9,620.0 548.0,633.3 512.0,658.8 501.0,664.7 497.0,667.8 489.0,672.5 480.1,677.0 472.0,680.2 465.0,683.8 461.0,684.7 454.5,688.0 451.0,688.7 446.0,691.1 434.0,694.4 431.0,695.7 427.0,696.5 420.0,700.0 412.0,702.8 406.0,705.5 400.8,709.0 392.0,713.4 385.4,718.0 384.3,720.0 384.0,726.0 383.2,729.0 383.0,741.0 382.1,745.0 382.0,757.0 381.1,761.0 381.0,773.0 380.1,777.0 380.0,789.0 379.2,792.0 378.8,797.0 378.0,797.8 255.0,771.3 210.0,761.3 202.2,759.0 202.3,758.0 204.0,755.2 239.5,702.0 260.0,657.4 263.6,652.0 268.1,639.0 271.4,625.0 271.5,619.0 272.4,614.0 272.4,598.0 271.6,594.0 271.4,587.0 269.6,577.0 269.4,573.0 267.7,565.0 267.5,561.0 266.3,555.0 251.8,488.0 251.6,484.0 248.8,471.0 245.6,446.0 244.8,443.0 244.6,437.0 243.7,433.0 243.6,423.0 242.7,418.0 242.7,379.0 243.6,375.0 243.7,362.0 244.6,358.0 244.8,352.0 245.6,349.0 245.7,343.0 246.7,339.0 246.9,333.0 247.7,330.0 251.0,305.0 251.8,302.0 252.0,297.9 257.8,274.0 258.3,270.0 263.0,254.0 263.6,250.0 273.0,215.4 273.5,211.0 275.7,201.0 282.1,181.0 288.0,160.0 296.6,123.0 305.8,90.0 311.1,77.0 319.7,62.0 323.2,58.0 330.0,52.3ZM323.0,684.6 321.0,686.0 320.7,688.0 321.7,690.0 324.0,692.1 327.0,693.6 330.0,694.2 333.0,693.9 335.0,692.4 335.4,691.0 335.0,689.6 332.0,686.4 327.0,684.4Z"/>
<path fill="#0084ff" d="M338.3,51.0 341.0,50.5 350.0,51.9 358.0,53.6 366.0,56.4 393.0,68.8 397.0,71.4 418.3,82.0 447.0,95.1 455.0,97.6 479.0,108.2 485.0,109.9 497.0,115.5 519.0,127.3 536.0,138.0 555.0,151.8 576.0,169.9 589.0,183.0 593.0,188.0 600.8,196.0 608.9,207.0 616.4,216.0 636.8,246.0 652.0,275.2 662.4,298.0 671.7,326.0 673.3,334.0 674.7,338.0 676.7,347.0 677.1,352.0 678.9,360.0 679.9,368.0 680.0,375.0 680.8,380.0 680.9,403.0 678.8,421.0 677.1,428.0 676.8,432.0 673.8,444.0 668.0,462.0 663.7,471.0 662.2,477.0 651.4,501.0 647.0,508.0 639.6,524.0 632.1,538.0 613.3,566.0 594.0,589.1 578.0,605.3 573.0,609.3 563.0,619.3 547.0,632.4 519.0,651.8 510.0,657.5 499.0,663.0 496.0,665.4 487.0,670.6 470.3,678.0 465.0,680.9 460.0,682.4 454.0,685.6 449.1,687.0 444.0,689.5 427.0,695.1 420.0,698.6 412.0,701.6 405.0,704.9 402.0,707.1 392.0,712.4 385.0,717.1 383.6,719.0 381.9,729.0 381.7,740.0 380.7,745.0 380.6,756.0 379.7,761.0 379.5,772.0 378.6,777.0 378.4,789.0 377.0,794.9 375.0,795.6 327.5,786.0 255.0,770.4 210.0,760.4 204.7,759.0 203.6,758.0 205.0,755.2 240.4,702.0 260.8,657.0 264.6,651.0 266.0,645.9 268.8,639.0 271.8,626.0 272.1,619.0 272.9,615.0 272.9,597.0 272.0,593.0 271.9,587.0 269.9,572.0 267.0,555.0 252.7,488.0 252.2,483.0 249.5,470.0 244.5,433.0 244.4,423.0 243.5,418.0 243.6,380.0 244.5,375.0 244.7,362.0 246.7,349.0 246.8,343.0 247.6,340.0 247.8,334.0 252.1,306.0 253.1,303.0 253.7,298.0 255.9,291.0 260.1,270.0 264.3,254.0 264.8,250.0 273.9,215.0 276.5,201.0 283.1,181.0 289.1,160.0 297.9,123.0 307.0,90.0 312.3,77.0 321.0,62.1 330.0,53.6ZM323.0,683.9 320.7,685.0 319.7,687.0 320.8,690.0 323.0,692.1 326.5,694.0 330.0,694.8 334.0,694.4 335.8,693.0 336.0,690.0 333.0,686.4 328.0,684.1Z"/>
<path fill="#00a0ff" d="M338.4,52.0 341.0,51.5 350.0,52.9 358.0,54.6 366.0,57.4 392.0,69.2 396.5,72.0 418.7,83.0 447.3,96.0 455.0,98.4 479.0,109.0 484.0,110.3 496.0,115.8 519.0,128.1 536.0,138.8 554.2,152.0 575.1,170.0 589.0,184.0 592.1,188.0 600.0,196.2 615.4,216.0 636.0,246.1 652.0,276.9 661.9,299.0 671.0,326.0 672.5,334.0 674.0,338.0 676.0,347.0 676.3,352.0 678.1,360.0 679.1,368.0 679.3,376.0 680.1,380.0 680.1,403.0 678.0,421.0 676.5,427.0 676.0,432.0 673.0,444.0 667.2,462.0 662.9,471.0 661.8,476.0 651.0,500.1 646.2,508.0 639.0,523.6 631.3,538.0 612.3,566.0 593.1,589.0 577.1,605.0 572.2,609.0 562.0,619.0 547.0,631.2 518.0,651.2 509.0,656.8 499.0,661.6 495.0,664.7 486.0,669.7 464.0,679.8 459.7,681.0 453.0,684.4 426.0,693.8 420.0,696.9 411.0,700.3 404.0,703.6 400.0,706.5 390.0,711.9 383.0,716.7 381.8,719.0 380.1,729.0 379.9,740.0 379.0,745.0 378.9,756.0 378.0,760.0 377.8,772.0 377.0,776.0 376.8,788.0 375.8,792.0 375.0,793.2 374.0,793.6 256.0,768.8 211.0,758.7 208.0,757.5 207.3,756.0 208.8,753.0 241.9,703.0 248.2,686.0 256.6,670.0 261.9,657.0 264.7,653.0 267.0,646.0 269.7,640.0 272.3,631.0 274.1,615.0 274.0,598.0 271.3,572.0 265.9,541.0 254.4,487.0 254.0,482.0 251.4,470.0 246.3,432.0 246.2,422.0 245.3,417.0 245.4,381.0 246.3,376.0 246.6,363.0 248.5,350.0 248.7,344.0 255.2,299.0 257.1,292.0 260.9,271.0 265.1,254.0 265.6,250.0 274.4,216.0 277.3,201.0 284.0,181.0 290.1,160.0 298.9,123.0 308.0,90.0 312.9,78.0 321.6,63.0 325.0,59.2 331.0,54.2ZM321.0,683.9 319.0,686.0 319.0,688.0 320.8,691.0 324.0,693.5 328.0,695.1 332.0,695.5 335.0,694.8 336.9,693.0 337.1,691.0 336.3,689.0 332.0,685.2 326.0,683.2Z"/>
<path fill="#00c0ff" d="M338.4,53.0 341.0,52.6 350.0,53.9 357.0,55.3 365.1,58.0 391.8,70.0 407.0,78.2 447.0,96.6 455.0,99.2 479.0,109.8 484.0,111.0 496.7,117.0 519.0,128.9 535.0,139.1 554.0,152.8 575.0,170.9 587.9,184.0 591.1,188.0 599.6,197.0 615.0,216.9 635.0,246.5 651.0,277.1 660.9,299.0 670.0,326.0 671.6,334.0 673.0,338.0 675.1,347.0 675.4,352.0 677.1,359.0 678.2,368.0 678.3,375.0 679.2,381.0 679.3,402.0 677.1,421.0 675.6,427.0 675.1,432.0 672.1,444.0 666.2,462.0 662.3,470.0 660.8,476.0 650.0,500.3 645.2,508.0 638.0,523.8 631.0,537.0 612.0,565.1 593.0,588.0 577.0,604.1 572.0,608.1 562.0,618.0 546.0,630.9 518.0,650.1 509.0,655.8 499.0,660.5 494.0,664.2 486.0,668.6 464.0,678.8 459.0,680.3 453.0,683.4 426.0,692.7 419.0,696.2 411.0,699.1 403.0,702.9 400.0,705.1 389.0,711.0 382.0,715.9 380.8,718.0 379.1,728.0 378.9,739.0 377.9,745.0 377.9,755.0 377.0,760.0 376.9,771.0 375.9,776.0 375.8,788.0 374.9,791.0 374.0,792.2 373.0,792.4 220.0,759.0 211.0,756.8 210.0,756.0 209.9,755.0 211.4,752.0 243.0,704.4 249.5,686.0 258.0,671.1 263.5,658.0 267.0,652.0 271.7,640.0 274.0,631.5 275.8,615.0 275.7,598.0 273.0,571.8 270.1,554.0 255.9,486.0 255.6,482.0 252.9,469.0 247.9,431.0 247.8,422.0 246.9,416.0 246.9,382.0 247.8,376.0 248.0,364.0 249.9,350.0 250.1,344.0 256.3,299.0 258.1,292.0 261.6,271.0 265.9,254.0 266.3,250.0 275.0,216.0 277.9,201.0 284.8,181.0 291.0,160.0 300.0,123.0 303.1,113.0 308.7,91.0 314.0,78.1 322.1,64.0 325.6,60.0 331.0,55.3ZM322.0,682.8 319.0,684.4 318.0,687.0 319.1,690.0 322.2,693.0 326.0,695.0 331.0,696.1 335.0,695.6 337.3,694.0 338.0,692.0 337.6,690.0 334.2,686.0 328.0,683.1Z"/>
<path fill="#00e0fb" d="M338.6,54.0 341.0,53.6 349.0,54.7 357.0,56.3 365.2,59.0 391.0,70.5 406.0,78.5 447.0,97.5 455.0,100.0 478.0,110.2 484.0,111.9 495.0,117.0 518.0,129.4 535.0,140.1 553.0,153.0 574.0,171.2 587.0,184.4 599.0,197.8 614.0,217.7 634.0,247.9 650.0,278.5 659.4,299.0 666.6,319.0 669.0,327.0 674.0,348.0 674.4,353.0 676.0,359.8 677.0,368.0 677.2,376.0 678.1,381.0 678.1,402.0 676.0,420.2 674.4,427.0 673.8,432.0 671.0,443.2 665.3,461.0 661.0,470.0 659.5,476.0 649.0,499.9 644.5,507.0 637.2,523.0 630.0,536.7 611.0,564.8 591.8,588.0 576.0,603.9 572.0,607.1 561.8,617.0 545.9,630.0 517.0,649.7 508.5,655.0 498.0,660.1 494.0,663.1 485.0,668.1 464.0,677.9 459.0,679.4 453.0,682.5 449.0,683.6 443.0,686.4 426.0,691.9 419.0,695.4 410.0,698.7 403.0,701.9 399.0,704.8 389.0,710.0 381.7,715.0 379.9,718.0 378.3,728.0 378.0,739.0 377.1,744.0 377.0,755.0 376.1,760.0 376.0,771.0 375.1,776.0 374.9,788.0 374.0,790.5 372.0,791.3 220.0,757.9 212.9,756.0 211.7,755.0 212.7,752.0 244.0,704.9 250.7,686.0 259.0,671.6 264.5,659.0 268.0,653.3 273.0,640.0 275.1,632.0 276.9,616.0 276.9,597.0 274.0,571.0 271.0,553.0 257.0,486.0 256.7,482.0 254.0,469.0 248.9,431.0 248.8,422.0 247.9,416.0 247.9,382.0 248.9,376.0 249.0,364.0 250.8,350.0 251.1,344.0 257.1,299.0 258.9,292.0 262.3,271.0 266.5,254.0 267.0,250.0 275.7,216.0 278.6,201.0 285.6,181.0 291.6,161.0 300.7,124.0 303.0,117.0 309.8,91.0 314.7,79.0 323.3,64.0 331.9,56.0ZM320.0,682.9 317.6,685.0 317.4,688.0 319.1,691.0 323.0,694.2 327.0,696.0 332.0,696.7 336.0,696.0 338.3,694.0 338.8,692.0 338.3,690.0 336.1,687.0 333.5,685.0 330.0,683.3 326.0,682.3 323.0,682.1Z"/>
<path fill="#16ffe1" d="M338.9,55.0 343.0,54.9 357.0,57.3 369.0,61.6 391.0,71.4 406.0,79.4 447.0,98.3 455.0,100.9 478.0,111.2 484.0,112.9 495.0,118.1 517.1,130.0 534.5,141.0 553.0,154.3 573.2,172.0 586.0,185.1 597.3,198.0 610.0,214.9 632.1,249.0 648.0,279.0 657.8,300.0 665.2,320.0 667.3,327.0 672.4,348.0 672.8,353.0 674.5,360.0 676.6,381.0 676.6,402.0 674.5,420.0 672.3,432.0 669.4,443.0 664.0,460.0 659.7,469.0 658.2,475.0 647.7,499.0 643.4,506.0 636.2,522.0 628.9,536.0 610.0,563.8 591.0,587.3 575.6,603.0 571.0,606.7 561.0,616.5 545.0,629.5 517.0,648.6 508.0,654.2 498.0,659.0 493.0,662.7 485.0,667.1 463.9,677.0 459.0,678.5 453.0,681.6 448.0,683.2 443.0,685.6 426.0,691.2 419.0,694.6 403.3,701.0 399.0,704.0 389.0,709.2 381.0,714.7 379.2,718.0 377.5,728.0 377.3,739.0 376.3,744.0 376.2,755.0 375.3,760.0 375.2,771.0 374.3,776.0 374.2,787.0 373.7,789.0 372.0,790.3 221.0,757.2 215.0,755.6 213.7,755.0 213.1,754.0 215.1,750.0 244.9,705.0 251.6,686.0 260.0,671.6 265.1,660.0 269.0,653.4 273.6,641.0 276.0,632.0 277.8,616.0 277.7,597.0 274.8,571.0 272.0,553.6 257.9,486.0 257.5,482.0 254.9,469.0 249.8,431.0 249.7,422.0 248.8,416.0 248.8,382.0 249.7,376.0 249.8,364.0 251.5,351.0 252.7,336.0 257.9,299.0 259.6,292.0 263.0,271.0 267.0,255.0 267.7,250.0 276.3,216.0 279.4,201.0 286.5,181.0 292.5,161.0 301.7,124.0 304.0,117.0 306.5,106.0 310.8,91.0 315.9,79.0 324.0,64.8 332.0,57.2ZM321.0,681.9 319.0,682.6 317.3,684.0 316.4,687.0 317.5,690.0 321.0,693.6 326.0,696.3 331.0,697.3 335.1,697.0 338.7,695.0 339.6,693.0 339.1,690.0 337.8,688.0 335.0,685.4 332.0,683.6 328.0,682.2 324.0,681.6Z"/>
<path fill="#2cffca" d="M339.5,56.0 343.0,56.0 356.0,58.2 369.0,62.7 390.1,72.0 406.0,80.4 446.0,98.9 454.0,101.5 478.0,112.2 483.0,113.6 495.0,119.3 517.0,131.2 534.0,142.0 552.0,155.0 573.0,173.5 584.9,186.0 596.2,199.0 608.0,215.1 630.1,250.0 646.2,280.0 655.8,300.0 663.3,320.0 665.4,327.0 670.7,348.0 671.2,353.0 672.9,361.0 675.1,382.0 675.0,402.0 672.8,420.0 670.8,431.0 667.7,443.0 662.2,460.0 658.4,468.0 656.3,475.0 645.9,499.0 642.1,505.0 636.0,518.7 628.1,534.0 617.1,551.0 605.5,567.0 589.5,587.0 575.0,602.0 570.1,606.0 560.0,615.9 545.0,628.1 516.0,648.0 507.0,653.5 497.0,658.4 490.4,663.0 478.0,669.4 463.0,676.4 458.0,678.1 452.0,681.2 425.0,690.9 419.0,693.9 403.0,700.4 398.0,703.8 388.2,709.0 380.8,714.0 378.5,718.0 376.9,727.0 376.5,739.0 375.6,744.0 375.5,755.0 374.6,760.0 374.5,771.0 373.6,776.0 373.4,787.0 372.5,789.0 371.0,789.5 221.0,756.4 215.8,755.0 214.5,754.0 214.4,753.0 245.2,706.0 251.8,687.0 261.0,671.2 266.0,660.0 269.6,654.0 274.4,641.0 276.7,632.0 278.5,616.0 278.5,597.0 275.6,571.0 272.6,553.0 258.6,486.0 258.1,481.0 255.7,469.0 250.6,431.0 250.5,422.0 249.5,416.0 249.5,382.0 250.4,376.0 250.5,364.0 252.3,351.0 253.4,336.0 258.6,299.0 260.2,292.0 263.6,271.0 267.6,255.0 268.4,250.0 277.1,216.0 280.0,201.6 287.4,181.0 293.5,161.0 302.7,124.0 305.0,117.2 307.3,107.0 311.6,92.0 316.6,80.0 325.0,65.3 332.9,58.0ZM319.0,681.9 316.3,684.0 315.6,686.0 315.8,688.0 318.2,692.0 322.0,695.0 327.0,697.2 332.0,698.0 337.0,697.1 339.7,695.0 340.4,693.0 339.8,690.0 337.6,687.0 334.0,684.2 330.0,682.3 326.0,681.3 322.0,681.2Z"/>
<path fill="#46ffb1" d="M340.8,57.0 356.0,59.3 368.0,63.4 390.0,73.0 405.0,81.0 446.0,100.0 454.0,102.6 477.3,113.0 483.0,114.7 494.0,120.0 516.0,131.9 533.0,142.7 551.3,156.0 572.0,174.4 584.0,187.0 595.1,200.0 607.0,216.7 634.8,263.0 650.9,294.0 654.1,301.0 661.7,321.0 667.0,340.0 671.2,361.0 673.4,382.0 673.4,401.0 671.1,420.0 669.0,431.0 666.2,442.0 660.7,459.0 656.5,468.0 654.8,474.0 644.3,498.0 640.6,504.0 634.0,518.8 626.7,533.0 616.0,549.4 604.1,566.0 588.5,586.0 574.1,601.0 560.0,614.2 544.0,627.4 521.3,643.0 507.0,652.1 497.0,657.1 492.0,660.8 484.0,665.3 452.0,680.3 425.0,690.2 419.0,693.2 403.0,699.8 398.0,703.1 388.0,708.4 380.0,714.0 377.8,718.0 376.0,728.0 375.8,739.0 374.9,744.0 374.7,755.0 373.8,760.0 373.7,771.0 372.8,776.0 372.7,786.0 372.1,788.0 371.0,788.6 338.0,781.7 221.0,755.6 217.0,754.6 215.9,754.0 215.5,753.0 216.9,750.0 246.0,706.1 252.5,687.0 261.3,672.0 266.8,660.0 270.0,654.8 275.2,641.0 277.3,633.0 279.2,615.0 279.1,596.0 278.2,591.0 278.0,585.0 274.2,558.0 259.4,486.0 256.4,469.0 251.3,431.0 251.2,422.0 250.3,416.0 250.2,382.0 251.1,376.0 251.2,364.0 252.9,351.0 254.1,336.0 259.3,299.0 260.7,293.0 264.3,271.0 268.3,255.0 269.1,250.0 277.9,216.0 280.8,202.0 288.1,182.0 294.5,161.0 308.3,107.0 312.7,92.0 317.8,80.0 326.0,65.9 333.5,59.0ZM320.0,681.0 316.1,683.0 314.9,685.0 314.8,687.0 316.5,691.0 320.8,695.0 326.0,697.5 332.0,698.6 337.0,697.9 339.0,696.9 340.7,695.0 341.3,693.0 340.6,690.0 338.4,687.0 336.0,685.0 332.0,682.7 328.0,681.3 324.0,680.7Z"/>
<path fill="#56ffa0" d="M336.8,59.0 341.0,58.2 348.0,59.0 356.0,60.5 367.0,64.2 389.0,73.7 404.8,82.0 445.0,100.7 460.0,106.3 477.0,114.0 483.0,115.9 494.0,121.2 515.7,133.0 533.0,144.0 550.7,157.0 571.0,175.2 583.0,188.0 593.8,201.0 605.7,218.0 633.0,264.3 649.2,295.0 659.8,321.0 665.5,341.0 669.5,361.0 671.8,382.0 671.7,402.0 669.6,419.0 667.3,431.0 662.2,449.0 658.8,459.0 654.6,468.0 653.0,473.6 642.8,497.0 638.5,504.0 633.0,516.7 625.0,532.4 614.0,549.0 594.0,576.8 588.0,584.4 578.2,595.0 558.4,614.0 543.0,626.6 515.0,645.8 506.0,651.4 496.8,656.0 489.0,661.3 478.0,667.2 452.0,679.4 425.0,689.6 418.0,693.0 403.0,699.2 398.0,702.5 388.0,707.8 380.0,713.2 377.5,717.0 375.5,727.0 375.0,739.0 374.1,744.0 374.0,754.6 373.1,760.0 373.0,770.3 372.1,776.0 372.0,785.0 371.5,787.0 370.0,787.6 338.0,781.0 221.0,754.9 217.8,754.0 216.7,753.0 217.8,750.0 246.3,707.0 252.6,688.0 262.0,671.9 267.0,661.0 271.0,654.0 275.9,641.0 278.0,633.0 279.8,615.0 279.7,596.0 278.8,591.0 278.6,585.0 274.8,558.0 260.1,486.0 257.1,469.0 252.0,431.0 251.9,422.0 251.0,416.0 250.9,382.0 251.8,376.0 251.9,364.0 253.6,351.0 253.8,345.0 259.7,300.0 264.9,271.0 278.7,216.0 281.7,202.0 289.1,182.0 295.3,162.0 309.3,107.0 314.0,91.5 318.6,81.0 326.6,67.0 333.0,60.8ZM318.0,681.0 315.0,683.1 314.1,685.0 313.9,687.0 315.5,691.0 320.0,695.3 326.0,698.2 332.0,699.2 337.0,698.6 339.0,697.7 341.1,696.0 342.1,693.0 341.3,690.0 339.2,687.0 335.4,684.0 331.0,681.8 326.0,680.4 322.0,680.2Z"/>
<path fill="#63ff94" d="M338.8,59.0 342.0,58.7 355.0,60.8 367.0,64.7 389.0,74.2 404.0,82.1 445.0,101.2 460.0,106.8 477.0,114.5 483.0,116.4 494.0,121.7 515.0,133.1 532.2,144.0 550.0,157.1 571.0,176.0 582.2,188.0 593.0,201.0 604.8,218.0 622.9,250.0 633.0,266.3 648.7,296.0 659.4,322.0 664.8,341.0 668.8,361.0 671.1,383.0 671.0,401.9 668.8,419.0 666.7,430.0 661.4,449.0 658.0,459.0 653.8,468.0 652.4,473.0 641.9,497.0 638.1,503.0 632.0,517.0 624.4,532.0 613.7,548.0 593.8,576.0 587.6,584.0 577.4,595.0 558.0,613.7 543.0,626.0 515.0,645.2 505.7,651.0 496.0,655.9 488.0,661.4 477.4,667.0 452.0,679.0 425.0,689.3 402.8,699.0 398.0,702.2 388.0,707.5 379.9,713.0 377.2,717.0 375.2,727.0 374.8,738.0 373.8,744.0 373.7,754.0 372.8,760.0 372.7,770.0 371.7,776.0 371.6,785.0 371.0,786.9 370.0,787.2 338.0,780.6 221.0,754.6 218.0,753.6 217.2,753.0 217.1,752.0 246.6,707.0 253.2,687.0 262.2,672.0 267.3,661.0 271.0,654.7 276.1,641.0 278.2,633.0 280.1,615.0 279.9,596.0 279.1,591.0 278.9,585.0 275.1,558.0 260.4,486.0 257.4,469.0 252.3,431.0 252.2,422.0 251.3,416.0 251.2,382.0 252.1,376.0 252.2,364.0 253.9,351.0 255.0,336.0 260.2,299.0 265.2,271.0 269.3,255.0 270.1,250.0 278.8,217.0 282.0,202.2 289.5,182.0 295.7,162.0 310.0,106.1 314.3,92.0 318.6,82.0 326.5,68.0 329.0,65.0 334.0,60.7ZM322.0,680.0 317.0,681.1 314.7,683.0 313.7,685.0 313.6,687.0 314.5,690.0 317.8,694.0 323.0,697.4 330.0,699.4 336.6,699.0 339.0,698.1 341.0,696.6 342.4,694.0 342.4,692.0 341.1,689.0 338.5,686.0 335.0,683.5 331.0,681.6 326.0,680.2Z"/>
<path fill="#6dff8a" d="M336.9,60.0 341.0,59.2 348.0,60.1 356.0,61.5 367.0,65.2 389.0,74.7 404.0,82.6 445.0,101.7 459.3,107.0 477.0,114.9 483.0,116.9 493.0,121.7 515.0,133.6 532.0,144.4 550.0,157.7 570.2,176.0 582.0,188.8 592.9,202.0 604.0,218.3 617.0,241.0 621.7,251.0 631.0,265.0 638.0,277.2 647.8,296.0 658.6,322.0 664.0,341.0 668.1,361.0 670.4,383.0 670.3,401.0 669.1,412.0 665.9,430.0 660.9,448.0 657.1,459.0 653.3,467.0 651.5,473.0 641.0,496.7 637.6,502.0 631.0,517.2 623.5,532.0 593.0,576.0 586.8,584.0 577.6,594.0 558.0,613.0 543.0,625.4 514.0,645.3 505.0,650.8 496.0,655.4 487.0,661.4 477.0,666.8 452.0,678.6 425.0,689.0 402.2,699.0 397.9,702.0 388.0,707.3 379.6,713.0 377.0,717.0 374.7,728.0 374.4,738.0 373.5,744.0 373.4,754.0 372.4,760.0 372.4,770.0 371.4,776.0 371.3,785.0 371.0,786.1 370.0,786.8 365.0,786.1 338.0,780.3 221.0,754.2 218.0,753.1 217.6,752.0 247.0,707.0 253.0,688.0 262.5,672.0 267.5,661.0 271.1,655.0 276.4,641.0 278.5,633.0 280.3,615.0 280.2,596.0 279.3,591.0 279.1,585.0 274.4,553.0 260.7,486.0 257.6,468.0 252.7,431.0 252.4,421.0 251.6,416.0 251.5,382.0 252.3,376.0 252.5,364.0 254.1,351.0 254.3,345.0 260.3,300.0 265.5,271.0 279.1,217.0 282.4,202.0 289.9,182.0 296.1,162.0 309.9,108.0 314.8,92.0 319.6,81.0 327.1,68.0 334.0,61.3ZM320.0,679.9 317.0,680.8 315.2,682.0 313.7,684.0 313.2,686.0 313.4,688.0 314.7,691.0 319.0,695.4 325.0,698.6 332.0,699.8 338.0,698.9 340.0,697.9 342.0,696.0 342.8,693.0 342.0,690.0 339.8,687.0 337.0,684.6 333.0,682.2 329.0,680.7 324.0,679.8Z"/>
<path fill="#77ff80" d="M339.0,60.0 342.0,59.8 355.0,61.8 367.0,65.7 388.7,75.0 404.0,83.1 445.0,102.2 453.0,104.9 477.0,115.4 482.0,117.0 494.0,122.7 515.0,134.1 532.0,145.0 549.6,158.0 570.0,176.6 581.4,189.0 592.0,202.0 603.5,219.0 615.9,242.0 618.9,251.0 623.0,256.2 633.0,271.1 647.0,296.3 657.8,322.0 663.2,341.0 667.3,361.0 669.6,383.0 669.4,401.0 667.0,419.3 664.9,430.0 662.0,440.8 656.0,458.8 652.6,466.0 650.0,473.7 640.0,496.0 636.4,502.0 631.0,515.0 623.0,531.0 592.9,575.0 586.8,583.0 576.9,594.0 557.2,613.0 542.0,625.6 514.0,644.7 505.0,650.3 496.0,654.9 486.0,661.5 477.0,666.3 452.0,678.3 425.0,688.8 402.0,698.9 397.4,702.0 388.0,707.0 379.3,713.0 376.7,717.0 374.5,727.0 374.1,738.0 373.1,744.0 373.0,754.0 372.1,760.0 372.0,770.0 371.1,776.0 371.0,784.0 370.3,786.0 369.0,786.4 338.0,780.0 221.4,754.0 218.6,753.0 218.1,752.0 247.3,707.0 253.2,688.0 262.8,672.0 267.8,661.0 271.0,655.9 276.4,642.0 278.8,633.0 280.6,615.0 280.4,596.0 279.6,591.0 279.4,585.0 275.6,558.0 261.0,486.0 258.0,468.8 252.9,430.0 252.7,421.0 251.9,415.0 251.8,382.0 252.6,376.0 252.8,364.0 255.5,336.0 260.7,299.0 265.8,271.0 270.8,250.0 279.5,217.0 282.5,203.0 291.7,178.0 298.0,157.0 310.6,107.0 315.3,92.0 319.7,82.0 324.0,74.0 327.7,68.0 330.0,65.4 335.0,61.3ZM319.0,679.9 314.7,682.0 313.3,684.0 312.8,686.0 313.3,689.0 314.3,691.0 319.0,695.8 325.0,698.9 332.0,700.1 338.5,699.0 341.0,697.5 342.4,696.0 343.2,693.0 342.3,690.0 340.2,687.0 336.6,684.0 332.0,681.6 328.0,680.2 323.0,679.5Z"/>
<path fill="#80ff77" d="M337.2,61.0 342.0,60.3 355.0,62.3 366.4,66.0 388.0,75.2 404.0,83.5 444.0,102.3 453.0,105.4 476.0,115.5 482.0,117.5 493.0,122.7 515.0,134.6 531.2,145.0 549.0,158.2 569.6,177.0 581.0,189.6 591.8,203.0 603.0,219.8 610.9,235.0 615.1,250.0 621.0,257.3 632.0,272.7 638.0,282.4 649.0,302.9 657.0,322.3 664.0,347.7 666.5,362.0 668.5,383.0 668.2,401.0 665.7,419.0 660.7,440.0 655.0,457.3 644.6,482.0 638.4,495.0 634.4,502.0 629.0,515.9 622.0,530.5 592.1,575.0 586.1,583.0 576.1,594.0 557.0,612.6 542.0,625.0 514.0,644.2 505.0,649.8 496.0,654.4 487.0,660.5 477.0,665.8 451.7,678.0 425.0,688.5 402.0,698.6 397.0,702.0 387.6,707.0 379.0,713.0 376.5,717.0 374.2,727.0 373.7,738.0 372.8,744.0 372.7,754.0 371.7,760.0 371.6,770.0 370.7,776.0 370.6,784.0 370.0,785.6 369.0,785.9 330.0,777.9 222.0,753.7 219.5,753.0 218.6,752.0 220.0,749.0 247.2,708.0 253.4,688.0 263.0,672.0 268.1,661.0 271.2,656.0 276.7,642.0 279.1,633.0 280.8,615.0 280.6,596.0 279.6,585.0 274.9,553.0 261.1,485.0 258.2,468.0 253.2,430.0 253.1,422.0 252.2,415.0 252.1,383.0 252.9,376.0 253.0,365.0 254.7,351.0 254.9,345.0 260.8,300.0 266.0,271.3 279.8,217.0 282.9,203.0 290.8,182.0 297.0,162.0 310.7,108.0 315.8,92.0 320.2,82.0 328.0,68.5 334.0,62.6ZM318.0,679.9 315.5,681.0 313.4,683.0 312.6,685.0 312.5,687.0 313.3,690.0 314.5,692.0 320.0,696.9 326.0,699.6 333.0,700.4 339.0,699.1 341.0,698.0 342.8,696.0 343.5,693.0 342.7,690.0 340.5,687.0 336.9,684.0 332.0,681.4 327.0,679.8 322.0,679.3Z"/>
<path fill="#8aff6d" d="M339.6,61.0 342.9,61.0 355.0,62.9 367.0,66.8 388.0,75.7 403.0,83.6 444.0,102.8 453.0,105.9 477.0,116.4 482.0,118.0 494.6,124.0 514.8,135.0 531.0,145.4 549.0,158.8 569.0,177.3 580.5,190.0 590.9,203.0 601.9,220.0 607.0,231.0 610.2,245.0 611.8,249.0 625.2,266.0 630.1,273.0 636.4,283.0 647.5,303.0 656.1,323.0 661.5,342.0 665.2,361.0 667.2,383.0 666.7,401.0 664.1,419.0 659.0,440.0 653.3,457.0 642.7,482.0 630.6,505.0 620.0,530.0 591.3,575.0 585.3,583.0 576.3,593.0 556.9,612.0 542.0,624.4 513.4,644.0 505.0,649.2 495.8,654.0 486.0,660.6 477.0,665.4 451.0,678.0 425.0,688.2 402.0,698.4 397.0,701.7 387.2,707.0 379.0,712.7 376.2,717.0 373.7,728.0 373.3,738.0 372.4,744.0 372.3,754.0 371.3,760.0 371.3,770.0 370.3,776.0 370.2,783.0 370.0,784.5 369.0,785.4 365.0,785.0 329.0,777.3 222.0,753.3 219.3,752.0 221.0,748.2 247.6,708.0 253.6,688.0 263.3,672.0 268.4,661.0 271.5,656.0 277.0,642.0 279.3,634.0 281.1,615.0 280.9,596.0 279.8,585.0 275.1,553.0 261.4,485.0 258.5,468.0 253.6,430.0 253.4,421.0 252.6,415.0 252.5,382.0 253.2,376.0 253.3,365.0 256.1,336.0 261.1,300.0 266.4,271.0 271.2,251.0 280.2,217.0 283.3,203.0 292.6,178.0 298.9,157.0 311.4,107.0 316.3,92.0 320.8,82.0 324.6,75.0 328.3,69.0 330.9,66.0 335.0,62.6ZM461.0,233.8 458.0,234.6 453.0,234.9 436.0,239.5 419.0,247.9 410.0,254.2 406.0,257.9 402.3,260.0 396.0,266.5 393.5,270.0 381.1,284.0 368.0,304.8 360.0,320.4 353.0,339.2 349.4,352.0 346.2,369.0 346.0,375.0 345.1,380.0 345.0,405.0 345.9,409.0 346.0,414.3 350.0,435.0 355.9,454.0 361.8,468.0 363.9,471.0 366.0,475.8 371.3,485.0 373.9,488.0 378.3,495.0 385.0,502.5 398.0,515.0 403.3,519.0 418.3,528.0 430.0,532.4 442.0,535.1 449.0,535.3 450.7,535.0 451.7,534.0 475.0,397.7 476.0,397.2 478.0,410.7 489.9,532.0 490.2,533.0 492.0,533.5 498.0,533.3 516.1,528.0 528.0,522.4 540.2,515.0 546.0,510.7 559.0,498.5 561.8,495.0 567.0,490.0 575.2,479.0 587.6,457.0 598.4,431.0 604.5,410.0 607.4,394.0 607.6,388.0 608.4,384.0 608.2,366.0 605.8,351.0 603.4,341.0 599.5,330.0 596.0,321.8 588.0,306.7 584.5,301.0 581.8,298.0 580.3,295.0 568.8,281.0 555.5,267.0 547.7,260.0 530.8,249.0 519.0,243.0 511.0,239.9 496.0,235.6 484.0,233.6ZM317.0,679.9 314.9,681.0 313.0,683.0 312.2,685.0 312.2,688.0 314.8,693.0 320.0,697.3 326.0,699.9 333.0,700.7 339.0,699.4 341.5,698.0 343.2,696.0 343.9,693.0 343.0,690.0 340.0,686.2 336.0,683.2 331.0,680.8 326.0,679.4 321.0,679.1Z"/>
<path fill="#97ff60" d="M338.0,62.0 342.0,61.5 355.0,63.5 366.2,67.0 388.0,76.2 403.0,84.1 444.0,103.4 452.0,106.1 476.0,116.5 482.0,118.5 493.5,124.0 514.0,135.0 531.0,145.9 548.4,159.0 568.9,178.0 580.0,190.5 590.0,203.2 593.1,208.0 600.8,221.0 602.1,224.0 604.7,235.0 605.8,243.0 606.6,245.0 611.5,253.0 620.0,262.1 628.8,274.0 635.2,284.0 646.3,304.0 655.0,324.0 660.1,342.0 663.8,361.0 665.7,383.0 665.3,400.0 662.7,418.0 657.3,440.0 651.9,456.0 641.0,481.6 635.0,493.5 628.4,505.0 621.7,519.0 618.0,528.1 601.2,555.0 597.9,563.0 591.2,574.0 586.0,581.1 571.8,597.0 556.1,612.0 541.8,624.0 513.0,643.7 495.0,654.0 485.0,660.7 477.0,664.9 451.0,677.6 425.0,687.9 402.0,698.1 397.0,701.5 387.0,706.9 379.0,712.4 375.9,717.0 373.5,727.0 372.9,738.0 372.0,744.0 371.9,754.0 370.9,760.0 370.8,770.0 369.9,776.0 369.8,783.0 369.0,784.8 368.0,785.0 329.6,777.0 222.4,753.0 220.1,752.0 219.9,751.0 247.5,709.0 253.7,688.0 263.6,672.0 268.7,661.0 271.8,656.0 277.3,642.0 279.6,634.0 281.3,615.0 281.1,596.0 280.1,585.0 275.4,553.0 261.8,485.0 258.9,468.0 254.0,430.0 253.8,421.0 252.9,415.0 252.8,382.0 253.5,377.0 253.6,365.0 256.4,336.0 261.4,300.0 266.7,271.0 271.5,251.0 280.5,217.0 283.7,203.0 293.0,178.0 299.4,157.0 311.6,108.0 316.8,92.0 321.0,82.7 325.0,75.5 330.8,67.0 335.0,63.3ZM457.0,228.0 451.0,228.6 434.0,233.0 430.0,234.5 415.4,242.0 398.0,254.3 390.4,262.0 374.0,281.0 362.1,300.0 354.0,315.2 345.3,339.0 342.3,350.0 339.1,367.0 338.9,373.0 338.0,379.0 338.0,406.0 338.9,411.0 339.1,416.0 342.2,433.0 345.5,445.0 349.5,457.0 355.9,472.0 364.9,488.0 372.6,499.0 380.0,507.2 394.4,521.0 400.0,525.1 414.5,534.0 427.0,539.0 439.0,542.1 453.0,544.1 479.0,543.7 502.0,539.7 516.0,535.0 530.8,528.0 543.5,520.0 550.0,515.0 563.7,502.0 572.0,492.9 580.0,482.0 592.4,460.0 597.8,448.0 605.0,429.1 609.8,412.0 612.9,395.0 613.9,385.0 613.7,365.0 611.4,350.0 609.1,340.0 605.0,328.0 601.5,320.0 593.0,303.6 585.4,292.0 573.9,278.0 559.0,262.3 551.0,255.1 544.0,250.2 530.5,242.0 521.0,237.2 506.0,231.7 498.0,229.6 484.0,227.2 462.0,227.2ZM320.0,679.0 317.0,679.6 314.4,681.0 312.6,683.0 311.8,685.0 311.8,688.0 312.9,691.0 317.4,696.0 324.0,699.7 331.0,701.0 338.0,700.1 341.0,698.8 343.0,697.0 344.2,694.0 343.8,691.0 342.1,688.0 339.0,685.0 335.0,682.3 330.0,680.2 325.0,679.1Z"/>
<path fill="#a0ff56" d="M337.3,63.0 342.0,62.3 354.4,64.0 367.0,67.9 388.0,76.7 403.0,84.6 443.0,103.6 452.7,107.0 475.0,116.6 481.8,119.0 492.4,124.0 513.0,135.0 530.3,146.0 547.6,159.0 559.8,170.0 568.9,179.0 576.0,187.0 590.0,205.0 594.7,214.0 599.0,224.3 600.3,232.0 600.3,235.0 599.2,238.0 600.0,240.0 609.9,255.0 620.0,265.1 627.0,274.1 633.4,284.0 644.6,304.0 653.4,324.0 658.6,342.0 662.4,362.0 664.2,384.0 663.7,400.0 661.0,417.6 655.0,441.0 650.0,455.3 639.0,480.9 632.5,493.0 623.0,509.1 609.8,528.0 609.0,530.0 609.9,533.0 609.2,536.0 605.6,543.0 598.5,554.0 596.9,562.0 593.9,568.0 590.4,574.0 585.3,581.0 571.1,597.0 556.0,611.5 541.0,624.0 513.0,643.2 495.0,653.5 486.0,659.6 477.0,664.5 451.0,677.2 425.0,687.7 402.0,697.8 397.0,701.2 387.0,706.6 379.0,712.1 375.7,717.0 373.1,727.0 372.4,738.0 371.4,744.0 371.3,754.0 370.5,759.0 370.3,770.0 369.4,775.0 369.3,782.0 369.0,783.6 368.0,784.3 336.5,778.0 229.2,754.0 222.0,752.3 220.7,751.0 248.0,709.0 251.5,695.0 253.9,688.0 264.4,671.0 269.0,661.1 271.6,657.0 277.6,642.0 280.0,634.0 281.6,615.0 281.4,596.0 280.3,585.0 275.7,553.0 262.1,485.0 259.3,468.0 254.4,430.0 254.2,421.0 253.4,415.0 253.2,382.0 253.8,377.0 253.9,365.0 256.7,336.0 261.8,300.0 267.0,271.0 280.9,217.0 283.0,206.9 293.4,178.0 299.8,157.0 312.0,108.0 316.9,93.0 322.0,82.0 330.0,68.9 335.0,64.3ZM457.0,222.8 450.0,223.6 432.0,228.2 428.0,229.7 413.0,237.2 394.6,250.0 386.0,258.6 369.8,277.0 357.2,297.0 348.7,313.0 339.9,337.0 336.7,349.0 333.5,367.0 332.4,378.0 332.5,407.0 333.6,417.0 336.8,434.0 340.1,446.0 344.5,459.0 350.9,474.0 360.4,491.0 368.2,502.0 376.4,511.0 391.0,524.8 397.0,529.2 412.0,538.3 426.0,543.8 438.8,547.0 452.0,548.8 480.0,548.3 503.2,544.0 517.8,539.0 533.0,531.7 539.0,528.2 552.0,518.8 566.4,505.0 575.4,495.0 583.4,484.0 595.8,462.0 601.2,450.0 609.0,429.2 613.5,413.0 616.6,396.0 617.7,385.0 617.5,365.0 615.1,349.0 612.8,339.0 608.3,326.0 604.8,318.0 596.6,302.0 588.8,290.0 577.0,275.5 561.5,259.0 553.8,252.0 546.0,246.4 534.1,239.0 523.0,233.2 508.0,227.5 499.0,225.0 485.0,222.4 462.0,222.2ZM319.0,678.9 316.0,679.7 313.9,681.0 312.1,683.0 311.3,686.0 311.6,689.0 313.0,692.0 318.0,697.0 324.0,700.2 331.0,701.4 339.0,700.1 341.2,699.0 343.5,697.0 344.6,694.0 344.2,691.0 342.4,688.0 339.0,684.7 334.0,681.6 329.0,679.7 324.0,678.7Z"/>
<path fill="#aaff4d" d="M337.6,64.0 342.0,63.3 354.0,64.8 365.4,68.0 387.5,77.0 403.0,85.1 443.0,104.3 452.0,107.5 481.0,119.4 493.1,125.0 513.8,136.0 530.0,146.4 547.9,160.0 559.0,170.1 568.0,179.0 577.0,189.5 587.9,205.0 591.0,212.0 594.6,224.0 594.0,225.9 590.0,225.2 589.0,226.0 591.0,231.0 608.0,256.0 619.0,267.1 627.0,277.1 632.0,284.6 643.0,304.0 652.3,325.0 657.3,343.0 661.0,362.0 662.5,384.0 662.5,390.0 661.5,401.0 657.8,421.0 652.4,440.0 648.6,451.0 636.1,480.0 624.2,501.0 618.5,510.0 590.4,547.0 590.1,548.0 590.7,549.0 594.0,552.0 595.0,554.0 594.9,561.0 592.3,569.0 584.6,581.0 571.0,596.4 555.9,611.0 541.0,623.5 513.0,642.7 495.0,653.0 485.0,659.7 477.0,664.0 451.0,676.9 424.0,687.8 402.0,697.6 396.9,701.0 387.0,706.4 378.8,712.0 375.4,717.0 372.5,728.0 371.8,738.0 370.8,744.0 370.7,754.0 369.8,760.0 369.7,770.0 368.8,775.0 368.6,782.0 368.0,783.3 367.0,783.6 330.0,776.0 227.9,753.0 221.9,751.0 223.0,748.2 248.6,709.0 251.4,696.0 253.7,689.0 264.7,671.0 269.0,661.7 272.4,656.0 278.3,641.0 280.4,634.0 281.8,615.0 281.6,596.0 280.6,585.0 276.9,558.0 262.5,485.0 259.8,468.0 254.9,430.0 254.7,421.0 253.9,415.0 253.6,382.0 254.2,377.0 254.3,365.0 257.0,336.0 262.1,300.0 267.2,272.0 272.3,251.0 281.3,217.0 284.2,204.0 293.8,178.0 300.3,157.0 312.4,108.0 317.1,94.0 322.2,83.0 331.0,69.1 335.7,65.0ZM458.0,217.8 449.0,219.0 431.0,223.4 426.0,225.2 410.0,233.2 391.0,246.3 382.1,255.0 365.9,273.0 359.0,283.1 352.5,294.0 343.1,312.0 335.4,333.0 331.5,347.0 328.1,365.0 326.9,378.0 327.1,408.0 328.3,418.0 332.8,440.0 339.2,460.0 346.1,476.0 356.3,494.0 363.3,504.0 372.0,513.6 388.6,529.0 395.0,533.5 409.3,542.0 426.0,548.4 438.0,551.3 453.0,553.1 481.0,552.3 503.0,548.1 519.0,542.6 534.6,535.0 548.0,526.3 555.0,520.7 569.0,507.1 577.2,498.0 586.0,485.9 598.9,463.0 604.2,451.0 610.8,434.0 616.5,414.0 619.8,396.0 620.8,385.0 620.6,364.0 618.2,348.0 615.8,338.0 611.4,325.0 607.9,317.0 599.2,300.0 591.4,288.0 579.0,272.8 564.0,256.6 555.0,248.4 538.0,236.9 525.0,229.8 510.0,223.8 499.0,220.7 485.0,218.0ZM516.0,173.3 515.6,174.0 522.0,176.6 536.0,185.0 544.0,188.4 555.7,196.0 557.2,196.0 537.3,181.0 530.3,178.0ZM318.0,678.8 314.8,680.0 312.4,682.0 311.3,684.0 310.8,687.0 312.4,692.0 314.8,695.0 318.0,697.7 324.0,700.7 331.0,701.7 339.0,700.4 341.8,699.0 343.9,697.0 345.0,694.0 344.6,691.0 341.9,687.0 338.5,684.0 334.0,681.4 328.0,679.2 323.0,678.4Z"/>
<path fill="#b4ff43" d="M339.5,65.0 347.0,65.2 359.0,67.0 377.0,73.2 387.0,77.4 430.0,99.2 442.0,104.7 481.0,120.1 492.0,125.2 512.7,136.0 529.9,147.0 547.0,160.0 558.0,170.1 568.0,180.4 577.8,193.0 586.1,208.0 587.4,213.0 587.0,214.5 586.0,214.5 580.0,210.4 560.0,193.0 537.4,178.0 520.8,171.0 514.8,169.0 510.0,168.4 506.0,168.5 504.0,169.2 503.4,170.0 503.7,171.0 505.8,173.0 513.0,177.9 524.0,182.6 542.0,191.9 557.0,202.0 570.0,212.0 579.4,221.0 587.7,231.0 600.0,247.4 607.1,258.0 617.0,268.0 624.0,276.5 630.0,284.8 640.0,301.6 646.1,314.0 651.0,325.8 657.2,349.0 659.3,362.0 659.8,371.0 660.2,388.0 658.5,403.0 654.5,423.0 646.8,448.0 639.4,466.0 633.4,479.0 618.4,505.0 598.3,532.0 585.1,547.0 581.7,552.0 581.2,554.0 590.0,555.6 592.0,557.0 592.5,559.0 592.0,565.0 591.0,569.0 589.1,573.0 584.0,580.7 570.6,596.0 555.1,611.0 540.9,623.0 513.0,642.2 495.0,652.6 485.0,659.3 476.2,664.0 451.0,676.5 424.0,687.5 402.0,697.3 396.4,701.0 387.0,706.1 378.5,712.0 375.1,717.0 371.7,729.0 371.0,738.0 370.1,743.0 369.8,754.0 369.0,759.0 368.8,770.0 368.0,775.0 367.7,781.0 367.0,782.4 366.0,782.6 329.6,775.0 227.9,752.0 224.4,751.0 223.5,750.0 225.0,746.9 248.6,711.0 249.6,708.0 251.4,697.0 253.9,689.0 265.6,670.0 269.2,662.0 272.2,657.0 278.4,642.0 280.7,635.0 280.6,631.0 282.1,615.0 281.9,596.0 280.7,584.0 276.2,553.0 263.0,485.0 260.3,468.0 255.5,430.0 254.5,415.0 254.1,382.0 254.6,377.0 254.7,365.0 257.2,337.0 262.5,300.0 268.0,270.1 281.7,217.0 284.0,206.2 294.3,178.0 300.7,157.0 312.9,108.0 318.0,93.0 323.0,83.1 332.0,70.0 336.8,66.0ZM458.0,213.0 448.0,214.2 429.0,218.7 424.0,220.4 408.0,228.1 387.2,242.0 377.8,251.0 361.0,269.0 353.4,280.0 346.8,291.0 336.9,310.0 329.3,331.0 325.3,345.0 321.7,364.0 320.4,378.0 320.7,408.0 322.1,419.0 327.0,442.0 333.5,462.0 340.5,478.0 351.3,497.0 358.4,507.0 367.7,517.0 385.0,532.7 392.0,537.5 407.0,546.2 424.0,552.6 437.0,555.5 452.0,557.3 482.0,556.2 504.0,551.7 520.0,546.0 536.0,538.1 550.0,528.9 557.0,523.2 570.4,510.0 580.0,499.2 588.7,487.0 601.0,465.0 606.9,452.0 613.4,435.0 619.2,415.0 622.4,397.0 623.6,385.0 623.4,364.0 621.0,348.0 618.5,337.0 614.0,324.0 610.6,316.0 601.9,299.0 593.5,286.0 581.0,270.6 566.0,254.1 557.0,245.7 540.0,233.9 526.0,226.1 511.0,219.9 500.0,216.6 486.0,213.6 475.0,212.9ZM317.0,678.8 314.2,680.0 311.9,682.0 310.8,684.0 310.4,687.0 311.0,690.0 312.5,693.0 318.0,698.4 325.0,701.5 332.0,702.0 340.0,700.4 342.4,699.0 344.4,697.0 345.4,694.0 344.5,690.0 342.3,687.0 338.0,683.4 333.0,680.7 327.0,678.8 322.0,678.2Z"/>
<path fill="#beff39" d="M338.9,67.0 346.0,66.8 360.0,68.5 377.0,74.0 387.0,78.0 430.0,100.4 443.0,106.2 481.0,121.0 498.3,129.0 513.0,136.9 521.2,142.0 530.3,148.0 547.1,161.0 558.0,171.5 568.9,184.0 576.0,195.0 578.8,203.0 578.0,203.6 575.0,201.9 561.0,191.0 542.7,179.0 535.2,175.0 523.1,170.0 513.0,166.9 500.0,165.3 493.0,166.0 491.0,167.0 490.5,168.0 491.0,169.0 498.4,174.0 513.0,181.3 529.0,188.2 540.0,193.9 547.9,199.0 556.0,204.5 568.0,213.9 576.0,221.0 585.0,231.0 601.0,251.9 605.6,259.0 615.2,269.0 622.5,278.0 628.0,285.7 639.0,303.8 645.0,315.9 650.9,331.0 655.1,349.0 657.1,365.0 657.5,390.0 656.0,402.0 652.2,421.0 644.0,447.7 636.9,465.0 630.8,478.0 615.1,505.0 596.0,530.2 577.0,551.2 557.5,569.0 559.0,569.0 561.7,568.0 580.0,560.4 585.0,559.4 588.0,559.6 589.0,560.2 589.6,562.0 589.2,569.0 587.8,573.0 583.0,580.9 570.0,595.9 555.0,610.5 540.1,623.0 512.0,642.3 495.0,652.1 484.7,659.0 476.0,663.7 451.0,676.1 424.0,687.3 402.0,697.1 387.0,705.9 378.1,712.0 374.8,717.0 370.5,731.0 368.6,743.0 368.3,754.0 367.5,759.0 367.3,770.0 366.3,779.0 366.0,780.4 365.0,780.9 336.5,775.0 267.8,759.0 232.1,750.0 229.2,749.0 228.6,748.0 243.6,725.0 248.3,717.0 250.2,710.0 251.4,698.0 254.0,689.0 266.5,669.0 269.5,662.0 273.4,655.0 281.4,635.0 280.9,631.0 282.4,615.0 282.1,596.0 281.1,585.0 277.4,558.0 263.5,485.0 260.8,468.0 257.2,439.0 255.2,416.0 254.6,383.0 255.2,365.0 257.7,336.0 262.9,300.0 268.0,272.0 282.1,217.0 284.0,207.9 294.7,178.0 301.2,157.0 313.3,108.0 318.3,94.0 323.7,84.0 333.0,71.3ZM410.0,163.0 404.8,164.0 399.3,166.0 382.0,175.4 365.7,183.0 360.0,187.0 354.0,194.4 349.0,203.1 337.0,228.0 336.0,231.0 336.0,233.0 338.0,232.7 342.0,229.6 356.5,213.0 362.6,207.0 372.4,199.0 386.0,189.1 409.0,176.9 436.8,168.0 442.2,166.0 443.4,165.0 441.3,164.0 432.0,163.0 419.0,162.5ZM459.0,207.0 447.0,208.1 427.0,212.5 421.0,214.4 404.0,222.1 382.0,235.7 371.3,245.0 351.4,264.0 337.4,285.0 327.7,302.0 318.2,325.0 311.6,345.0 307.4,362.0 303.0,384.5 301.1,390.0 304.0,395.7 309.3,420.0 314.4,439.0 324.2,466.0 333.5,485.0 343.9,502.0 353.0,514.0 362.0,522.4 381.0,538.0 388.0,542.5 404.0,551.2 423.0,557.8 436.0,560.5 451.0,562.1 483.0,560.3 505.0,555.5 521.0,549.6 537.0,541.5 545.0,536.5 558.0,526.6 572.0,512.6 582.0,501.3 591.0,488.7 603.6,466.0 609.4,453.0 615.9,436.0 621.9,415.0 625.1,397.0 626.2,385.0 626.1,364.0 623.6,347.0 621.0,336.0 616.6,323.0 613.1,315.0 604.0,297.0 596.0,284.6 583.5,269.0 568.0,251.6 559.0,242.9 542.0,230.8 528.0,222.6 514.0,216.4 502.0,212.2 486.0,208.3 476.0,207.4ZM294.0,331.6 293.0,332.0 292.0,333.8 291.0,336.8 286.0,371.0 286.1,390.0 288.0,405.8 289.0,411.1 290.0,412.8 294.0,395.6 296.9,390.0 294.0,381.4 292.7,373.0 292.2,359.0 294.3,335.0ZM321.0,678.0 317.0,678.5 313.6,680.0 311.5,682.0 310.1,685.0 310.0,688.0 311.0,691.6 313.0,694.7 316.0,697.7 322.0,701.3 329.0,702.5 338.0,701.4 341.5,700.0 344.1,698.0 345.7,695.0 345.6,692.0 343.6,688.0 340.6,685.0 336.0,681.9 331.0,679.7 326.0,678.4Z"/>
<path fill="#caff2c" d="M342.9,70.0 352.0,69.1 360.0,70.0 376.0,74.6 385.0,78.0 397.6,84.0 430.0,101.7 443.0,107.3 481.0,121.8 497.0,129.2 510.0,136.0 529.0,148.0 546.7,162.0 557.0,172.6 564.6,182.0 568.9,189.0 570.4,193.0 570.0,193.5 569.0,193.2 567.0,192.1 538.9,175.0 522.0,168.0 513.0,165.4 497.0,162.9 477.0,161.9 464.0,160.5 451.0,160.2 420.0,157.1 408.0,156.8 397.0,157.9 389.2,160.0 363.1,173.0 359.0,176.3 355.0,180.9 350.0,188.9 345.0,198.4 299.0,300.0 287.0,333.0 285.0,345.7 282.1,373.0 284.0,416.2 291.0,461.8 293.0,471.5 296.0,479.6 309.0,508.4 314.0,516.8 324.0,531.0 340.0,547.3 347.2,556.0 362.3,578.0 372.0,595.1 375.0,599.1 377.4,601.0 380.0,602.0 385.1,602.0 425.0,590.9 425.7,590.0 425.0,589.0 410.7,580.0 403.3,574.0 401.9,572.0 401.6,570.0 402.4,568.0 404.0,566.8 409.0,566.1 434.0,568.5 450.0,569.0 484.0,565.8 506.0,560.2 523.0,553.4 540.0,544.2 554.0,534.4 561.5,528.0 576.8,512.0 585.0,502.2 593.0,490.8 597.0,484.0 606.7,466.0 618.1,438.0 624.4,416.0 626.7,404.0 628.8,386.0 628.7,364.0 626.3,347.0 623.8,336.0 618.7,321.0 606.7,296.0 598.4,283.0 589.3,272.0 585.8,267.0 570.4,249.0 561.4,240.0 544.0,226.8 531.0,218.6 513.0,209.6 488.0,200.5 476.0,197.4 451.5,194.0 446.0,192.3 443.3,190.0 442.6,187.0 443.6,184.0 445.8,182.0 455.0,177.9 465.0,176.4 481.0,176.2 487.8,177.0 494.0,178.6 520.0,188.0 539.0,197.0 555.0,207.2 566.0,215.6 575.0,223.4 586.0,235.6 599.4,253.0 604.7,261.0 614.0,270.7 620.5,279.0 629.1,292.0 641.0,313.0 647.7,329.0 652.4,349.0 654.4,363.0 655.0,386.0 653.5,401.0 649.3,422.0 642.0,445.3 634.3,464.0 627.2,479.0 613.6,502.0 601.1,519.0 592.0,530.2 576.3,547.0 561.0,559.8 551.0,566.4 535.0,574.9 511.0,584.0 485.4,590.0 471.0,592.0 466.9,593.0 465.3,594.0 465.5,595.0 472.6,601.0 477.0,603.5 483.0,603.8 492.0,602.0 504.7,598.0 523.2,591.0 555.0,576.0 574.0,566.4 580.0,564.0 584.0,563.2 586.0,563.4 587.1,565.0 587.1,569.0 586.0,573.0 582.0,580.9 573.7,591.0 555.9,609.0 544.0,619.4 530.0,629.8 512.0,641.8 494.4,652.0 483.0,659.5 462.0,670.4 442.0,679.8 424.0,687.0 401.0,697.3 396.0,700.7 386.4,706.0 377.8,712.0 375.0,716.0 372.4,723.0 368.0,732.0 354.0,738.4 346.0,739.7 338.0,738.6 333.0,736.5 330.0,734.6 326.9,732.0 323.5,728.0 317.9,718.0 315.0,714.4 311.0,711.8 301.4,708.0 295.0,706.0 289.3,706.0 282.8,708.0 271.0,713.2 267.0,714.1 263.0,714.2 258.0,713.3 253.0,711.0 251.5,709.0 250.9,704.0 251.7,697.0 254.6,688.0 266.8,669.0 269.9,662.0 273.3,656.0 276.0,648.8 281.7,637.0 282.2,635.0 281.3,631.0 282.7,616.0 282.3,595.0 279.5,570.0 276.7,552.0 264.0,485.0 261.3,467.0 256.9,429.0 255.9,415.0 255.2,382.0 255.7,365.0 258.0,336.8 260.0,322.0 263.3,300.0 268.5,272.0 284.5,208.0 295.2,178.0 301.4,158.0 314.0,107.3 319.0,94.0 324.5,85.0 329.0,78.9 335.0,73.1ZM319.0,677.9 315.0,678.9 312.0,680.8 310.4,683.0 309.5,686.0 309.6,689.0 310.5,692.0 312.3,695.0 316.0,698.8 322.0,702.2 329.0,703.0 339.0,701.4 342.1,700.0 344.6,698.0 346.1,695.0 345.7,691.0 343.2,687.0 340.0,684.2 335.0,681.1 330.0,679.1 324.0,677.9Z"/>
<path fill="#d4ff23" d="M356.4,72.0 361.0,72.0 365.0,72.7 376.0,75.8 385.0,79.0 396.0,84.1 429.0,102.6 441.0,107.6 481.0,122.7 497.0,130.0 510.2,137.0 528.9,149.0 542.6,160.0 555.4,174.0 561.7,184.0 561.0,184.5 559.0,183.9 542.0,174.7 533.0,170.7 522.0,166.5 512.0,163.8 494.0,161.0 467.0,158.5 451.0,157.7 427.0,155.0 413.0,154.1 397.0,154.4 391.0,155.3 385.0,157.0 363.0,167.7 359.0,170.9 355.0,175.2 350.0,182.6 342.0,198.0 299.0,294.5 287.0,327.3 284.2,340.0 280.7,374.0 282.0,408.5 283.0,421.2 291.0,470.0 295.0,481.4 306.0,506.8 311.0,516.1 321.0,531.2 326.0,537.3 339.5,552.0 345.4,560.0 359.2,582.0 370.0,602.2 374.0,606.5 378.0,608.2 385.0,608.0 406.0,602.6 418.0,600.3 428.0,599.1 438.0,598.8 445.0,600.0 451.0,602.2 455.0,604.7 461.0,610.4 464.0,612.3 468.0,613.1 474.0,612.4 491.6,607.0 522.2,595.0 537.2,588.0 576.0,568.5 582.0,566.8 584.0,567.5 584.4,569.0 583.6,574.0 581.3,580.0 577.0,586.0 569.4,595.0 554.2,610.0 543.0,619.7 530.0,629.3 512.0,641.4 494.0,651.8 484.8,658.0 476.0,662.8 451.0,675.3 424.0,686.7 401.0,697.1 396.0,700.5 386.0,706.0 378.0,711.5 374.6,716.0 371.0,724.2 368.0,727.8 354.0,734.7 350.0,735.9 345.0,736.4 338.0,735.2 331.0,731.4 328.0,728.6 325.3,725.0 320.0,713.2 317.9,710.0 314.0,707.3 304.7,704.0 298.0,702.2 292.0,702.6 284.6,705.0 271.0,711.3 265.0,712.5 261.0,712.3 256.0,710.7 253.0,708.9 251.5,706.0 251.2,703.0 251.7,698.0 254.8,688.0 266.7,670.0 273.7,656.0 277.0,647.6 283.6,636.0 281.8,632.0 283.0,616.0 282.7,596.0 281.6,584.0 277.9,557.0 264.7,485.0 262.0,467.0 257.8,430.0 256.7,416.0 255.8,382.0 256.2,365.0 259.3,330.0 263.8,300.0 269.1,272.0 285.0,208.0 295.7,178.0 302.1,157.0 314.0,108.8 320.0,94.1 326.0,85.2 330.0,81.0 333.0,79.3 342.0,75.8ZM317.0,677.9 314.0,679.0 311.0,681.4 309.5,684.0 309.0,688.0 309.4,691.0 311.0,694.7 314.0,698.6 317.0,701.3 320.0,702.9 323.0,703.6 332.0,703.2 341.0,700.9 344.0,699.1 345.8,697.0 346.7,694.0 345.7,690.0 342.6,686.0 338.8,683.0 334.0,680.4 328.0,678.3 322.0,677.5ZM537.2,205.0 542.2,206.0 552.5,211.0 564.0,218.8 574.0,226.9 586.0,240.0 598.0,255.0 602.7,262.0 613.0,273.1 623.1,287.0 633.2,304.0 638.0,313.3 645.2,331.0 648.3,343.0 651.3,361.0 652.1,389.0 650.6,401.0 646.8,420.0 639.0,445.0 631.9,462.0 625.3,476.0 609.0,503.0 599.0,516.2 590.0,527.0 575.0,542.4 565.9,550.0 557.0,556.3 550.0,560.5 536.0,567.0 528.0,570.0 515.0,572.3 512.8,572.0 511.8,571.0 512.5,569.0 514.5,567.0 518.4,564.0 527.0,559.1 548.0,545.2 563.5,532.0 579.1,515.0 587.0,505.2 596.1,492.0 609.2,468.0 614.8,455.0 620.9,439.0 627.3,416.0 630.4,398.0 631.5,387.0 631.5,363.0 629.3,347.0 626.9,336.0 621.6,320.0 609.7,295.0 600.9,281.0 573.0,245.3 564.0,235.4 543.5,217.0 538.7,212.0 536.7,209.0 536.0,207.0 536.1,206.0Z"/>
<path fill="#deff19" d="M361.1,75.0 366.0,74.9 372.0,76.0 385.0,80.2 396.0,85.3 428.0,103.9 479.6,123.0 497.3,131.0 512.0,138.9 528.4,150.0 538.1,158.0 544.2,164.0 552.2,175.0 552.0,175.9 550.0,175.6 538.0,170.7 520.0,164.3 503.0,160.8 478.0,157.9 451.0,155.9 425.7,153.0 405.0,151.8 392.0,152.5 383.0,154.7 361.8,165.0 358.0,168.0 353.0,173.7 347.0,183.2 340.0,197.2 298.0,293.0 286.0,326.5 283.1,339.0 279.6,374.0 281.0,410.0 282.0,422.0 290.1,471.0 293.0,479.6 304.0,505.8 310.0,517.4 320.0,532.8 336.5,552.0 343.6,562.0 356.3,583.0 368.0,605.5 372.0,610.0 376.0,612.0 379.0,612.4 383.0,612.0 402.0,607.4 414.0,605.2 423.0,604.3 432.0,604.3 439.0,605.3 445.0,607.9 448.8,611.0 453.7,617.0 456.0,618.4 460.0,619.1 465.0,618.5 474.6,616.0 483.2,613.0 520.7,598.0 535.8,591.0 574.0,571.9 580.0,570.5 581.0,571.2 581.3,573.0 580.4,578.0 577.9,583.0 568.6,595.0 554.6,609.0 543.2,619.0 523.9,633.0 503.7,646.0 476.0,662.3 442.0,679.1 424.0,686.4 401.0,696.8 396.3,700.0 386.0,705.7 378.3,711.0 375.5,714.0 371.4,722.0 369.0,724.8 353.0,732.9 349.0,734.1 345.0,734.4 341.0,734.0 337.0,732.8 333.0,730.5 330.0,728.0 327.6,725.0 325.3,721.0 322.4,712.0 321.4,708.0 322.1,706.0 324.5,705.0 336.0,702.9 341.0,701.3 345.0,698.6 347.0,695.0 346.6,691.0 343.1,686.0 337.0,681.6 330.0,678.6 324.0,677.4 318.0,677.4 314.0,678.6 310.8,681.0 309.1,684.0 308.4,688.0 309.1,693.0 311.4,699.0 311.6,700.0 311.0,701.0 308.0,701.1 300.0,699.8 294.0,700.3 285.9,703.0 271.0,710.1 265.0,711.4 260.0,710.9 256.0,709.5 253.0,707.4 251.9,705.0 251.6,701.0 252.1,697.0 255.5,687.0 267.7,669.0 273.6,657.0 277.0,648.6 281.0,642.0 284.0,639.3 288.0,638.8 289.4,638.0 284.0,634.5 282.3,632.0 283.4,616.0 283.0,596.0 281.9,584.0 278.5,558.0 265.3,485.0 262.8,467.0 257.6,416.0 256.4,383.0 256.7,367.0 259.8,329.0 264.4,300.0 270.0,271.0 286.0,206.6 296.2,178.0 302.4,158.0 315.0,107.4 321.0,94.5 326.0,87.8 328.0,85.9 335.0,82.4 343.0,79.3 352.0,76.7ZM592.9,257.0 596.0,259.4 599.6,264.0 609.0,273.8 616.0,282.9 620.2,289.0 630.0,305.8 636.0,317.8 641.6,332.0 646.2,351.0 648.0,363.0 648.9,388.0 647.2,401.0 643.0,420.7 636.0,442.2 628.0,461.0 621.0,475.1 606.0,499.1 595.0,512.7 586.0,520.2 585.2,520.0 585.3,519.0 586.9,515.0 600.4,494.0 612.4,471.0 618.3,457.0 624.2,441.0 630.7,417.0 633.7,399.0 635.0,385.0 635.1,364.0 633.9,353.0 630.6,335.0 626.2,321.0 621.8,310.0 613.7,293.0 604.7,278.0 596.0,266.3 592.7,259.0Z"/>
<path fill="#e7ff0f" d="M362.0,78.0 368.0,77.5 373.0,77.9 384.0,81.0 396.0,86.7 408.1,94.0 418.0,101.0 425.6,105.0 479.5,124.0 495.4,131.0 512.0,140.0 527.7,151.0 537.6,160.0 541.0,164.0 542.5,167.0 541.0,167.8 537.0,167.3 516.0,161.6 495.0,158.4 421.2,151.0 398.0,150.1 391.0,150.6 385.0,151.7 372.0,157.1 359.0,164.2 355.0,168.1 351.0,173.1 345.0,183.0 338.0,197.2 297.0,292.2 285.0,326.3 282.3,338.0 278.7,374.0 280.0,408.3 281.0,421.3 289.1,471.0 292.0,479.8 302.0,504.2 308.0,516.5 318.0,532.5 334.8,553.0 341.7,563.0 353.5,583.0 366.0,607.3 370.8,613.0 375.0,615.1 382.0,615.0 400.0,610.6 411.0,608.7 420.0,608.0 428.0,608.2 435.0,609.5 440.0,612.0 443.0,615.0 447.0,621.5 449.0,623.1 453.0,623.9 458.0,623.4 476.0,617.9 517.9,601.0 533.4,594.0 571.0,575.5 577.0,573.8 578.0,574.2 578.5,576.0 577.5,580.0 575.1,585.0 567.7,595.0 554.9,608.0 543.0,618.6 523.1,633.0 503.0,645.9 475.7,662.0 450.0,674.9 401.0,696.5 386.0,705.4 378.0,710.9 374.5,715.0 371.0,721.3 369.0,723.2 353.0,731.4 349.0,732.7 345.0,733.0 338.0,731.7 333.0,728.8 328.5,724.0 325.4,717.0 324.1,710.0 324.9,707.0 328.6,705.0 338.0,702.7 342.3,701.0 346.0,698.1 347.4,695.0 347.5,693.0 346.6,690.0 343.6,686.0 337.0,681.3 330.0,678.4 325.0,677.2 320.0,677.0 316.0,677.5 313.0,678.8 310.3,681.0 308.6,684.0 307.9,688.0 308.0,695.0 307.0,697.0 305.0,697.6 297.0,698.3 291.0,699.9 270.0,709.5 264.0,710.5 259.0,709.7 254.0,707.2 252.1,704.0 251.8,701.0 252.3,697.0 255.1,688.0 268.2,669.0 279.0,646.5 281.0,643.8 283.0,642.2 293.3,641.0 294.6,640.0 290.2,637.0 285.0,634.4 282.9,632.0 283.8,616.0 283.4,596.0 282.4,585.0 278.8,557.0 266.0,485.0 263.6,467.0 258.5,417.0 257.2,383.0 257.2,368.0 260.2,330.0 265.0,300.0 270.5,272.0 286.3,208.0 296.5,179.0 303.2,157.0 315.0,109.0 318.0,102.1 322.0,95.0 327.0,89.7 335.0,85.6 344.0,82.1 353.0,79.5Z"/>
<path fill="#f1fc06" d="M359.1,81.0 373.0,80.3 378.4,81.0 384.0,82.6 395.7,88.0 403.4,93.0 414.0,101.0 423.0,105.8 431.3,109.0 473.5,123.0 491.0,130.0 506.8,138.0 519.0,146.0 527.5,153.0 531.0,157.0 532.0,159.4 531.9,160.0 530.2,161.0 527.0,161.2 497.0,157.2 425.0,149.9 406.0,148.5 393.0,148.6 387.0,149.4 382.0,150.8 371.0,155.5 360.7,161.0 355.0,165.4 348.3,174.0 342.0,185.1 335.0,200.0 296.0,291.7 284.1,326.0 281.4,338.0 277.9,374.0 279.0,404.3 280.2,421.0 288.5,472.0 292.0,482.3 302.0,506.8 307.0,517.1 317.0,533.4 333.5,554.0 339.5,563.0 351.6,584.0 361.0,602.9 365.0,609.7 370.0,615.8 374.0,617.7 381.0,617.4 398.0,613.4 408.0,611.7 417.0,611.0 424.0,611.3 431.0,612.9 436.0,615.7 438.5,619.0 441.0,625.2 443.0,627.3 446.0,628.1 452.0,627.5 461.0,625.1 472.8,621.0 514.5,604.0 528.3,598.0 569.0,578.5 574.0,577.3 575.0,577.9 575.2,579.0 573.3,585.0 569.0,592.0 554.2,608.0 539.2,621.0 517.0,636.6 483.9,657.0 461.1,669.0 442.0,678.2 424.0,685.7 401.0,696.2 386.0,705.2 378.0,710.6 374.9,714.0 371.0,720.0 369.0,721.8 352.0,730.6 345.0,731.9 338.0,730.5 333.0,727.4 329.2,723.0 326.6,717.0 325.7,711.0 325.9,709.0 327.1,707.0 330.8,705.0 339.0,702.7 343.0,701.0 346.6,698.0 348.0,694.0 347.1,690.0 344.0,685.9 338.0,681.5 331.0,678.4 326.0,677.2 321.0,676.7 317.0,677.0 313.0,678.4 310.7,680.0 308.6,683.0 306.5,693.0 305.0,695.0 290.8,699.0 269.0,709.1 263.0,709.7 258.0,708.6 254.0,706.3 252.3,703.0 252.5,697.0 255.3,688.0 261.0,679.3 268.7,669.0 279.0,647.9 281.0,645.7 283.0,644.6 296.0,642.7 298.1,642.0 298.2,641.0 285.5,634.0 283.7,632.0 284.3,616.0 283.8,596.0 282.7,584.0 279.2,557.0 267.0,486.1 264.5,468.0 259.4,420.0 257.9,383.0 257.8,370.0 260.9,329.0 265.7,300.0 271.2,273.0 287.1,208.0 297.5,178.0 303.5,158.0 315.0,110.8 321.0,98.8 323.0,95.8 326.0,93.0 334.0,88.7 342.0,85.4 351.0,82.6Z"/>
<path fill="#feed00" d="M361.5,83.0 368.0,82.6 375.0,82.9 381.0,83.9 386.0,85.4 394.0,89.1 410.3,101.0 421.0,106.7 429.7,110.0 472.8,124.0 490.3,131.0 500.7,136.0 511.0,142.0 518.5,148.0 520.7,151.0 521.0,153.0 519.9,155.0 518.0,156.0 510.0,156.6 452.0,151.6 415.0,147.7 399.0,146.9 389.0,147.4 383.0,148.7 371.0,153.7 358.0,160.8 352.3,166.0 345.8,175.0 340.0,185.6 333.0,200.8 295.0,291.4 283.2,326.0 280.6,338.0 277.1,374.0 278.4,408.0 279.5,422.0 287.7,472.0 291.0,482.1 301.0,507.0 306.0,517.4 316.0,534.1 331.6,554.0 336.4,561.0 349.5,584.0 359.0,603.1 364.0,611.8 368.0,617.1 372.0,619.7 375.0,620.1 379.0,619.8 397.0,615.7 407.0,614.1 415.0,613.6 422.0,614.2 428.0,616.0 432.1,619.0 433.9,622.0 435.6,629.0 437.0,631.1 440.0,632.1 445.0,631.6 461.0,627.0 484.3,618.0 524.8,601.0 565.0,582.2 570.0,580.7 571.3,581.0 571.7,582.0 570.4,587.0 566.9,593.0 554.0,607.4 539.7,620.0 517.0,636.1 486.4,655.0 475.5,661.0 450.0,673.9 400.0,696.5 378.4,710.0 375.3,713.0 371.0,718.9 369.0,720.6 352.0,729.6 349.0,730.5 345.0,730.9 341.0,730.5 338.0,729.4 335.0,727.7 331.9,725.0 328.3,719.0 327.2,715.0 327.0,711.0 327.8,708.0 330.1,706.0 341.0,702.3 345.1,700.0 348.1,696.0 348.3,692.0 346.4,688.0 342.3,684.0 337.0,680.7 330.0,677.8 321.0,676.4 317.0,676.7 313.0,678.0 310.2,680.0 308.6,682.0 307.3,685.0 305.9,691.0 304.0,693.6 288.8,699.0 269.0,708.4 264.0,709.1 259.0,708.3 254.6,706.0 252.7,703.0 252.7,697.0 255.5,688.0 262.0,678.3 269.4,669.0 279.0,649.6 282.0,647.2 297.0,644.2 300.0,643.1 300.7,642.0 299.9,641.0 286.7,634.0 284.7,632.0 284.9,617.0 284.2,596.0 281.6,570.0 266.4,477.0 260.8,427.0 259.6,409.0 258.5,370.0 261.3,330.0 266.1,302.0 270.0,282.9 287.9,208.0 298.3,178.0 304.3,158.0 315.0,112.8 317.0,107.9 321.0,100.8 323.0,98.0 326.0,95.5 334.0,91.1 343.0,87.3 352.0,84.6Z"/>
<path fill="#ffe200" d="M362.4,85.0 374.0,85.1 385.0,87.5 393.0,91.3 408.3,102.0 419.0,107.6 428.3,111.0 466.1,123.0 482.3,129.0 495.5,135.0 504.3,140.0 510.4,145.0 511.6,147.0 511.9,149.0 511.0,151.3 508.6,153.0 504.0,153.7 498.0,153.8 468.0,151.7 411.0,146.0 397.0,145.5 387.0,146.2 382.0,147.4 370.0,152.5 356.5,160.0 351.0,165.2 344.0,175.1 337.7,187.0 329.0,206.4 294.5,290.0 282.6,325.0 279.7,338.0 276.3,374.0 278.6,421.0 286.8,472.0 289.3,480.0 299.6,506.0 305.0,517.7 314.0,533.1 330.5,555.0 336.4,564.0 348.6,586.0 357.0,603.0 363.0,613.5 367.0,619.1 371.0,621.7 374.0,622.1 378.0,621.8 396.0,617.7 405.0,616.4 413.0,616.0 419.0,616.6 425.0,618.8 428.5,622.0 429.7,625.0 430.1,633.0 431.1,635.0 434.0,635.9 439.0,635.4 454.3,631.0 477.8,622.0 523.1,603.0 562.0,585.3 567.0,584.0 568.0,584.5 568.3,586.0 566.9,590.0 565.2,593.0 558.9,601.0 552.4,608.0 539.0,620.0 516.3,636.0 483.6,656.0 461.0,667.9 441.0,677.6 401.0,695.6 379.0,709.2 375.8,712.0 371.0,717.9 369.0,719.5 352.0,728.6 349.0,729.6 345.0,730.1 341.0,729.6 338.0,728.5 335.0,726.7 332.2,724.0 328.9,718.0 328.0,714.0 328.0,711.0 329.1,708.0 331.0,706.3 342.0,702.3 346.8,699.0 348.9,695.0 348.6,691.0 346.1,687.0 342.0,683.3 336.0,679.8 330.0,677.5 321.0,676.1 317.0,676.4 313.0,677.5 310.7,679.0 308.8,681.0 307.2,684.0 305.0,690.5 303.0,692.8 287.2,699.0 269.0,707.8 264.0,708.6 259.0,707.7 254.4,705.0 252.8,702.0 253.0,696.0 255.6,688.0 262.0,678.6 270.8,668.0 279.0,651.7 282.0,649.5 297.0,645.8 302.3,643.0 302.1,642.0 300.9,641.0 292.7,637.0 287.8,634.0 286.0,632.0 284.7,595.0 282.1,570.0 279.7,552.0 267.2,477.0 261.8,429.0 260.5,411.0 259.3,370.0 262.0,329.8 270.0,287.4 288.5,209.0 298.8,179.0 305.2,158.0 313.0,122.2 316.0,112.2 322.0,101.3 325.0,98.5 330.0,95.4 338.0,91.4 346.0,88.3 354.0,86.2Z"/>
<path fill="#ffd700" d="M361.5,87.0 374.0,87.1 380.0,88.2 386.0,90.2 393.0,93.8 408.1,104.0 417.0,108.4 427.0,112.1 467.9,125.0 485.5,132.0 495.1,137.0 499.5,140.0 502.5,143.0 503.5,146.0 502.2,149.0 500.8,150.0 496.0,151.2 489.0,151.5 467.0,150.3 409.0,144.6 395.0,144.1 385.0,145.0 380.0,146.6 369.0,151.3 355.0,159.3 348.5,166.0 341.2,177.0 335.6,188.0 326.3,209.0 293.3,290.0 281.3,326.0 278.7,339.0 275.5,374.0 277.8,421.0 286.0,472.0 288.5,480.0 299.0,507.0 304.0,517.9 313.0,533.6 329.5,556.0 334.6,564.0 347.0,586.5 356.0,604.5 363.0,616.7 366.1,621.0 370.0,623.5 373.0,624.0 377.0,623.7 394.0,619.9 403.0,618.5 411.0,618.3 417.0,619.1 422.0,621.3 423.8,623.0 424.9,625.0 425.5,629.0 424.1,637.0 424.4,639.0 426.1,640.0 430.0,639.9 444.3,636.0 471.1,626.0 521.2,605.0 557.0,589.0 563.0,587.2 564.8,588.0 564.9,589.0 563.8,592.0 557.6,601.0 552.4,607.0 542.8,616.0 528.6,627.0 510.7,639.0 482.5,656.0 461.0,667.2 441.0,677.1 400.0,695.9 378.0,709.6 369.0,718.6 352.0,727.8 349.0,728.8 345.0,729.3 341.0,728.8 338.0,727.7 333.2,724.0 329.7,718.0 328.8,712.0 329.6,709.0 331.2,707.0 334.0,705.5 343.0,702.2 347.3,699.0 349.4,695.0 349.1,691.0 346.7,687.0 343.0,683.6 338.0,680.5 331.0,677.5 326.0,676.3 321.0,675.8 317.0,676.0 313.0,677.1 310.0,679.0 308.2,681.0 304.8,689.0 302.3,692.0 286.0,698.9 269.0,707.2 264.0,708.0 259.0,707.1 255.0,704.9 253.0,701.3 253.2,696.0 256.0,687.6 262.0,679.0 271.8,668.0 279.0,654.2 281.0,652.4 284.0,650.9 299.0,646.3 303.0,644.0 303.7,643.0 303.2,642.0 301.7,641.0 291.9,636.0 289.0,634.0 287.7,632.0 285.3,595.0 282.7,569.0 276.7,528.0 268.0,477.0 262.8,431.0 261.3,412.0 260.1,370.0 262.9,329.0 270.7,289.0 289.5,209.0 299.7,179.0 306.1,158.0 313.0,124.8 315.5,116.0 317.9,110.0 321.0,104.8 323.0,102.4 328.0,98.7 336.0,94.3 345.0,90.6 353.0,88.3Z"/>
<path fill="#ffcc00" d="M359.4,89.0 366.0,88.6 373.0,88.9 379.0,90.1 385.0,92.0 392.0,95.6 406.4,105.0 415.0,109.2 426.0,113.2 448.0,119.8 466.4,126.0 481.4,132.0 488.7,136.0 492.6,139.0 494.3,141.0 495.0,144.0 494.2,146.0 491.9,148.0 488.0,149.0 480.0,149.4 457.7,148.0 406.0,143.1 393.0,142.8 384.0,143.8 368.0,150.3 353.1,159.0 346.0,167.0 338.4,179.0 333.5,189.0 324.3,210.0 292.5,289.0 280.6,325.0 277.8,339.0 274.7,374.0 276.1,410.0 277.1,422.0 285.4,473.0 288.3,482.0 298.0,507.0 303.0,518.0 312.0,534.0 327.8,556.0 333.0,564.0 355.1,606.0 365.0,622.5 368.4,625.0 373.0,625.7 401.0,620.5 410.0,620.5 416.0,621.9 419.3,624.0 420.7,626.0 421.3,628.0 420.8,633.0 417.1,642.0 417.3,644.0 418.0,644.4 421.0,644.6 426.0,643.5 445.8,637.0 478.8,624.0 551.0,593.0 559.0,590.5 561.0,591.0 561.0,592.0 558.2,598.0 553.8,604.0 541.8,616.0 529.0,626.0 510.0,638.8 483.0,655.0 461.0,666.6 441.0,676.5 400.0,695.5 378.0,709.3 369.0,717.7 351.0,727.4 345.0,728.6 339.0,727.4 334.0,723.8 331.9,721.0 330.5,718.0 329.7,712.0 330.5,709.0 332.3,707.0 343.0,702.5 347.8,699.0 349.9,695.0 349.7,691.0 347.4,687.0 344.0,683.8 339.0,680.6 332.0,677.6 327.0,676.2 321.0,675.5 316.0,675.9 312.4,677.0 310.0,678.5 308.0,680.6 304.0,688.9 302.0,691.1 268.0,707.0 262.0,707.4 257.0,705.7 254.0,703.0 253.1,699.0 254.2,693.0 257.0,686.2 263.0,678.2 273.8,667.0 280.1,656.0 285.0,652.6 300.1,647.0 304.0,644.4 304.7,643.0 302.5,641.0 292.6,636.0 290.3,634.0 289.4,632.0 282.1,557.0 268.0,470.6 262.7,422.0 260.9,379.0 261.0,368.2 262.0,351.3 263.2,335.0 264.6,324.0 272.0,288.1 291.0,208.0 307.2,158.0 310.4,144.0 314.0,123.4 317.0,114.3 319.0,109.9 322.0,105.5 331.0,98.9 338.0,95.2 345.0,92.3 352.0,90.3Z"/>
<path fill="#ffbd00" d="M357.1,91.0 364.0,90.4 371.0,90.6 377.0,91.5 383.0,93.4 390.0,96.8 405.0,106.3 413.0,110.1 425.0,114.4 450.1,122.0 474.6,131.0 483.3,136.0 486.0,139.0 486.4,142.0 485.7,144.0 482.9,146.0 479.0,146.9 473.0,147.2 452.8,146.0 404.0,141.6 392.0,141.3 384.0,142.2 368.0,148.7 352.0,158.0 348.9,161.0 344.1,167.0 336.1,180.0 322.3,211.0 291.2,289.0 279.5,325.0 276.7,339.0 273.7,374.0 275.2,410.0 276.2,422.0 284.5,473.0 287.3,482.0 296.5,506.0 301.3,517.0 309.5,532.0 315.0,540.7 330.7,563.0 352.9,605.0 362.0,621.2 364.9,625.0 368.4,627.0 373.0,627.4 394.0,623.1 404.0,622.3 411.0,623.2 414.0,624.4 416.0,626.0 417.2,628.0 417.5,630.0 416.8,634.0 414.3,639.0 407.9,648.0 407.6,649.0 408.0,650.0 411.1,650.0 419.0,648.0 449.2,637.0 476.6,626.0 550.0,595.0 556.0,593.5 557.2,594.0 557.4,595.0 555.8,599.0 552.4,604.0 540.7,616.0 528.0,626.0 510.0,638.1 482.0,654.9 460.9,666.0 400.0,695.1 378.0,708.9 369.0,716.8 351.0,726.7 345.0,728.0 339.0,726.6 334.1,723.0 331.2,718.0 330.4,712.0 331.4,709.0 333.3,707.0 344.0,702.4 348.0,699.4 350.4,695.0 350.4,691.0 348.2,687.0 344.0,683.2 338.0,679.7 332.0,677.2 326.0,675.7 321.0,675.2 316.0,675.5 312.0,676.7 307.9,680.0 303.7,688.0 301.0,690.8 268.0,706.5 263.0,707.0 258.0,705.7 254.5,703.0 253.3,699.0 253.8,695.0 255.3,690.0 258.0,684.9 263.0,678.6 275.2,667.0 282.0,657.0 287.0,653.5 301.0,647.6 305.6,644.0 305.6,643.0 303.2,641.0 293.5,636.0 291.3,633.0 288.0,606.0 283.2,557.0 269.0,471.6 263.6,422.0 261.9,381.0 262.2,364.0 264.0,337.3 265.4,326.0 273.0,289.1 293.0,206.1 308.5,157.0 311.5,144.0 314.4,125.0 317.0,116.6 321.0,108.8 324.0,105.8 330.0,101.4 336.0,97.9 343.0,94.8 350.0,92.5ZM375.0,667.0 376.3,667.0ZM377.0,666.0 377.4,666.0Z"/>
<path fill="#ffab00" d="M354.6,94.0 361.0,93.2 368.0,93.2 374.2,94.0 380.9,96.0 387.1,99.0 401.0,107.6 409.0,111.5 420.0,115.6 447.0,124.0 461.9,130.0 469.1,134.0 470.8,136.0 471.5,138.0 470.7,140.0 468.0,141.9 460.0,142.7 445.0,142.3 398.0,138.8 389.0,138.9 382.0,140.1 367.0,146.4 354.0,153.7 349.3,157.0 344.6,162.0 339.5,169.0 331.5,183.0 318.4,213.0 288.5,289.0 277.5,323.0 275.5,331.0 274.4,338.0 271.5,374.0 274.3,422.0 282.5,472.0 285.5,482.0 294.7,506.0 299.4,517.0 307.4,532.0 312.9,541.0 328.6,564.0 349.6,604.0 360.7,624.0 363.0,627.2 366.0,629.4 371.0,630.2 392.0,626.0 401.0,625.4 405.0,625.9 408.0,626.9 409.7,628.0 411.2,630.0 411.5,633.0 410.6,636.0 408.1,640.0 404.0,644.5 399.0,648.7 393.0,652.6 371.1,663.0 366.1,666.0 363.0,669.0 361.6,672.0 362.0,674.0 364.0,675.4 367.0,675.6 372.3,674.0 405.0,656.4 466.1,632.0 538.0,602.0 549.0,598.3 551.0,598.1 552.1,599.0 551.1,602.0 549.1,605.0 538.8,616.0 527.5,625.0 509.0,637.5 485.0,652.1 474.0,658.1 449.0,670.9 400.0,694.4 378.0,708.3 369.0,715.6 351.0,725.6 348.0,726.7 345.0,727.0 342.0,726.6 339.0,725.6 335.0,722.5 332.3,718.0 331.5,715.0 331.5,712.0 332.7,709.0 334.8,707.0 344.0,703.0 348.4,700.0 351.0,696.0 351.5,691.0 349.6,687.0 346.0,683.5 339.0,679.4 332.0,676.6 327.0,675.3 321.0,674.6 316.0,674.8 312.0,676.0 307.7,679.0 303.0,687.1 300.0,690.1 268.0,705.8 263.0,706.3 258.0,704.9 254.6,702.0 253.7,698.0 254.1,695.0 256.0,688.9 259.0,684.0 263.0,679.2 276.3,668.0 283.0,659.8 285.9,657.0 290.0,654.4 302.0,648.5 305.6,646.0 307.1,644.0 305.7,642.0 295.2,636.0 294.0,634.0 290.6,607.0 285.5,559.0 271.0,474.0 265.4,421.0 264.1,380.0 265.0,355.7 266.7,334.0 268.0,324.8 276.0,287.3 286.5,246.0 296.0,205.7 311.5,154.0 313.5,144.0 315.7,126.0 318.0,118.0 320.0,113.8 322.0,111.1 331.0,103.7 342.0,97.8Z"/>
<path fill="#ff9400" d="M358.8,96.0 369.0,96.2 374.0,97.3 378.8,99.0 396.0,109.5 402.0,112.5 440.8,127.0 445.4,130.0 446.3,132.0 446.2,134.0 445.7,135.0 444.0,136.1 436.0,137.2 394.0,135.4 384.0,136.1 377.0,138.5 366.0,143.6 347.9,154.0 344.5,157.0 340.2,162.0 330.8,176.0 322.5,193.0 302.0,239.6 297.0,248.4 295.0,250.5 294.0,250.4 293.3,247.0 294.0,238.8 300.0,207.5 316.5,152.0 316.8,148.0 316.2,139.0 316.4,134.0 317.2,126.0 319.0,120.2 321.0,116.4 324.7,112.0 329.2,108.0 335.0,104.0 346.0,98.8 352.4,97.0ZM273.3,452.0 274.0,451.1 275.0,453.3 279.4,472.0 281.6,479.0 297.5,518.0 308.5,538.0 326.3,565.0 345.8,602.0 361.0,629.2 364.1,632.0 369.0,633.1 389.0,629.1 398.0,628.7 402.9,630.0 404.3,631.0 405.4,633.0 405.2,636.0 403.7,639.0 400.4,643.0 395.7,647.0 385.9,653.0 366.7,662.0 359.6,667.0 357.3,670.0 356.3,673.0 356.8,676.0 359.0,678.5 361.0,679.2 364.0,679.2 371.0,677.0 408.0,657.6 523.0,609.9 542.0,603.2 545.9,603.0 545.9,605.0 540.6,612.0 535.5,617.0 521.0,628.3 508.0,636.9 484.9,651.0 474.0,657.0 400.0,693.7 378.0,707.6 370.0,713.8 349.0,725.5 346.0,726.0 343.0,725.9 338.0,723.9 335.8,722.0 333.7,719.0 332.7,716.0 332.4,713.0 333.2,710.0 334.8,708.0 345.3,703.0 350.2,699.0 352.6,694.0 352.4,689.0 349.9,685.0 345.0,681.5 337.0,677.7 330.0,675.4 320.0,673.9 316.0,674.2 312.0,675.2 307.7,678.0 305.3,681.0 301.8,687.0 299.8,689.0 296.6,691.0 268.0,705.1 263.0,705.6 258.0,704.1 255.0,701.5 254.1,697.0 256.0,689.5 260.0,683.3 265.0,678.0 278.1,668.0 287.0,658.7 291.0,655.9 304.0,648.7 307.3,646.0 308.3,644.0 306.7,642.0 298.2,637.0 297.2,636.0 296.6,634.0 288.5,564.0 275.0,482.7 273.0,460.0Z"/>
<path fill="#ff8200" d="M368.0,112.0 369.0,111.0 376.0,111.3 376.3,112.0 382.3,115.0 391.0,117.3 400.4,121.0 403.6,123.0 404.9,125.0 404.8,126.0 403.9,127.0 401.0,127.8 384.0,128.2 375.2,130.0 365.9,134.0 342.0,145.7 339.0,146.6 336.5,146.0 333.3,141.0 333.0,139.2 332.0,138.0 332.0,136.0 335.0,133.0 335.0,132.0 341.0,126.0 341.0,125.0 343.0,123.0 344.0,123.0 349.0,118.0 350.0,118.0 355.0,115.0 357.0,115.0 358.0,114.0 360.0,114.0 361.0,113.0 364.0,113.0 365.0,112.0ZM285.7,509.0 287.0,508.8 290.0,512.0 307.3,541.0 322.0,563.2 342.2,601.0 352.0,617.2 358.0,629.7 360.8,634.0 364.0,636.0 368.0,636.3 385.0,632.6 393.0,632.1 396.0,632.7 398.0,633.8 398.8,635.0 399.0,637.0 398.4,639.0 396.2,642.0 388.9,648.0 380.0,652.9 364.0,660.0 356.7,665.0 353.9,668.0 352.0,672.0 351.6,675.0 352.4,681.0 352.0,681.5 349.0,681.1 336.0,676.3 329.0,674.3 321.0,673.2 314.0,673.8 310.0,675.5 307.0,677.7 301.0,686.4 297.0,689.8 269.0,704.0 266.0,704.9 263.0,705.0 260.0,704.3 257.0,702.7 255.4,701.0 254.6,699.0 254.5,696.0 255.8,691.0 259.0,685.0 264.0,679.5 277.5,670.0 289.3,659.0 305.0,649.5 308.0,647.0 309.5,645.0 309.3,644.0 307.7,642.0 300.2,637.0 299.5,635.0 292.3,572.0 285.1,522.0 284.7,513.0 285.0,510.1ZM535.0,608.0 538.0,607.6 539.4,608.0 539.7,609.0 538.8,611.0 535.4,615.0 527.4,622.0 509.0,635.0 481.1,652.0 420.0,682.3 400.0,692.8 385.0,702.2 370.0,712.6 350.0,724.1 346.0,725.2 341.0,724.5 337.0,722.0 334.7,719.0 333.4,714.0 334.3,710.0 337.6,707.0 347.0,702.6 351.1,699.0 353.7,694.0 354.3,690.0 354.1,684.0 355.0,683.1 362.0,682.3 368.0,680.3 402.0,662.4 413.0,657.4 507.0,618.0 523.0,611.9Z"/>
<path fill="#ff6f00" d="M295.4,539.0 298.0,538.8 302.0,541.9 310.0,552.3 318.0,563.8 339.3,602.0 350.7,620.0 357.4,636.0 359.2,639.0 362.0,640.8 365.0,640.9 379.2,637.0 386.0,636.1 390.2,637.0 391.2,638.0 391.2,640.0 388.3,644.0 382.8,648.0 375.0,651.9 362.0,656.7 356.0,660.3 349.4,667.0 346.0,674.6 345.0,675.7 340.0,676.0 329.0,673.4 322.0,672.5 317.0,672.4 313.0,673.3 306.8,677.0 304.1,680.0 300.1,686.0 296.0,689.3 269.0,703.3 266.0,704.2 262.0,704.2 257.0,701.9 255.5,700.0 254.9,698.0 255.0,695.0 256.4,690.0 260.0,684.3 265.0,679.4 280.5,669.0 291.9,659.0 307.0,649.5 309.7,647.0 310.8,645.0 308.6,642.0 303.2,638.0 301.8,632.0 296.1,572.0 293.3,549.0 293.5,542.0 294.0,540.5ZM527.4,613.0 531.0,612.6 532.2,613.0 532.0,615.0 530.3,617.0 519.9,626.0 506.9,635.0 480.4,651.0 419.0,681.5 406.0,688.5 386.0,700.7 371.0,710.9 351.0,722.7 347.0,724.2 343.0,724.2 339.0,722.5 335.7,719.0 334.3,714.0 335.4,710.0 337.3,708.0 346.0,703.9 351.2,700.0 354.1,696.0 357.0,688.7 359.8,686.0 372.0,680.2 401.0,664.7 414.0,658.6 504.0,621.0 517.3,616.0Z"/>
<path fill="#ff5d00" d="M307.4,570.0 310.0,569.5 312.0,570.1 315.0,572.4 318.0,575.8 325.0,585.9 337.5,606.0 348.7,622.0 351.7,629.0 353.7,637.0 353.9,644.0 352.5,651.0 349.6,657.0 340.7,671.0 339.0,672.6 335.0,673.1 320.0,671.3 316.0,671.6 313.0,672.5 309.0,674.6 306.0,676.9 298.8,686.0 293.3,690.0 268.0,703.0 264.0,703.7 260.2,703.0 256.9,701.0 255.7,699.0 255.3,697.0 256.7,690.0 260.0,684.8 265.0,680.1 281.0,670.0 293.0,660.0 307.1,651.0 310.6,648.0 312.1,646.0 311.8,644.0 306.0,638.0 304.7,630.0 303.8,618.0 302.8,595.0 302.9,581.0 304.0,573.8 305.0,571.8ZM515.9,619.0 521.0,618.1 523.0,618.6 523.1,620.0 521.6,622.0 511.9,630.0 498.0,639.0 479.2,650.0 411.0,684.3 395.0,693.7 371.0,709.8 350.5,722.0 346.0,723.5 342.0,723.1 338.4,721.0 336.1,718.0 335.4,716.0 335.2,713.0 337.0,709.3 339.0,707.8 347.0,704.0 351.0,701.1 354.6,697.0 359.0,689.8 364.3,686.0 398.0,667.8 411.0,661.5 493.9,627.0Z"/>
<path fill="#ff4a00" d="M318.6,598.0 323.0,599.0 328.0,603.0 343.0,619.9 348.0,627.7 350.4,635.0 350.9,642.0 349.8,648.0 346.8,655.0 340.0,664.6 337.0,668.1 335.0,669.6 331.0,670.3 319.0,670.1 313.0,671.8 306.1,676.0 298.0,685.5 291.7,690.0 268.0,702.3 263.0,703.0 259.0,701.7 256.3,699.0 255.8,695.0 257.5,689.0 261.0,684.3 266.0,680.2 282.8,670.0 295.0,660.4 309.0,651.3 313.4,647.0 313.8,645.0 310.1,640.0 309.4,636.0 308.6,626.0 309.0,614.0 310.1,607.0 312.0,601.9 315.0,599.1ZM506.5,625.0 510.0,624.4 512.0,625.0 511.8,626.0 510.2,628.0 503.7,633.0 488.1,643.0 473.6,651.0 410.0,683.3 393.0,693.6 371.0,708.6 350.0,721.3 347.0,722.5 343.0,722.5 339.7,721.0 337.0,718.0 336.3,716.0 336.1,713.0 336.8,711.0 338.5,709.0 347.0,704.6 350.9,702.0 355.0,698.0 360.0,691.4 362.7,689.0 380.0,678.9 402.6,667.0 418.1,660.0 478.9,635.0Z"/>
<path fill="#ff3800" d="M326.4,619.0 331.0,619.7 338.0,623.9 343.0,629.0 346.1,635.0 347.0,641.0 346.0,646.9 343.0,653.4 338.3,660.0 334.2,664.0 331.0,666.2 328.0,667.2 318.0,669.1 309.0,673.1 304.0,677.0 298.0,684.3 294.9,687.0 269.3,701.0 266.0,702.2 263.0,702.4 260.0,701.5 258.0,700.2 256.2,697.0 256.8,692.0 259.0,687.2 262.0,684.0 266.0,680.9 284.8,670.0 296.9,661.0 310.0,652.4 315.1,648.0 316.3,646.0 315.3,641.0 315.1,636.0 315.6,631.0 316.7,627.0 320.0,622.1 323.0,620.1ZM490.4,634.0 493.8,634.0 492.8,636.0 481.8,644.0 461.7,655.0 410.0,681.7 392.0,692.7 370.1,708.0 349.0,720.9 346.0,721.9 343.0,721.7 340.0,720.2 338.0,718.0 337.1,716.0 337.0,713.0 337.7,711.0 339.0,709.6 351.0,702.8 361.0,692.5 365.0,689.3 380.6,680.0 403.8,668.0 419.7,661.0 466.9,642.0 480.3,637.0Z"/>
<path fill="#ff2500" d="M326.0,645.0 329.0,644.5 332.0,645.1 334.0,646.6 335.0,649.0 335.0,653.0 334.0,656.0 332.1,659.0 329.1,662.0 324.4,665.0 308.0,672.8 304.0,676.0 298.0,683.1 294.0,686.6 269.7,700.0 266.0,701.5 263.0,701.7 260.0,700.7 257.8,699.0 256.7,696.0 257.5,691.0 259.0,687.9 263.0,683.8 286.7,670.0 312.2,653.0 319.0,647.8ZM462.8,647.0 467.0,646.1 468.0,646.1 468.2,647.0 462.8,651.0 449.0,659.0 407.0,681.6 391.0,691.8 371.0,706.2 349.0,720.0 346.0,721.0 343.0,720.8 340.0,719.1 338.4,717.0 337.9,713.0 339.6,710.0 351.0,703.6 364.0,691.7 379.0,682.4 397.1,673.0 412.3,666.0 442.5,654.0Z"/>
<path fill="#ff1300" d="M321.0,651.0 324.5,652.0 327.0,654.4 327.6,657.0 326.4,660.0 320.6,665.0 306.0,673.2 302.8,676.0 296.9,683.0 293.4,686.0 286.9,690.0 267.0,700.4 264.0,701.0 262.0,700.7 260.0,699.9 258.0,698.1 257.2,695.0 258.0,690.8 260.0,687.4 263.0,684.6 287.0,671.0 308.0,657.4 317.0,652.3ZM428.3,663.0 432.0,662.3 433.0,663.0 430.6,665.0 410.0,677.4 396.0,686.6 371.0,705.0 349.0,719.0 346.6,720.0 344.0,720.1 341.2,719.0 339.4,717.0 338.7,715.0 338.8,713.0 340.8,710.0 351.7,704.0 362.0,694.7 370.0,689.1 383.0,681.9 401.4,673.0 413.6,668.0Z"/>
<path fill="#e80000" d="M312.7,657.0 316.0,656.2 319.0,656.9 320.5,659.0 319.9,662.0 317.0,665.0 304.0,673.4 296.6,682.0 293.3,685.0 287.0,689.0 267.0,699.6 263.0,700.1 261.0,699.4 259.0,698.0 257.8,695.0 258.5,691.0 260.0,688.2 263.0,685.4 287.0,672.1 304.5,661.0ZM400.3,677.0 402.5,677.0 402.4,678.0 400.6,680.0 375.9,700.0 367.6,706.0 347.0,718.9 343.3,719.0 340.6,717.0 339.6,714.0 341.0,711.0 352.0,704.8 366.0,693.1 382.5,684.0 394.1,679.0Z"/>
<path fill="#cd0000" d="M306.6,662.0 310.0,661.0 312.0,661.4 313.0,663.0 312.1,665.0 303.0,672.3 296.0,681.0 291.6,685.0 285.0,689.0 266.0,698.9 262.6,699.0 259.4,697.0 258.6,695.0 259.0,691.4 260.0,689.4 262.2,687.0ZM381.6,687.0 384.0,686.5 385.8,687.0 384.9,689.0 378.4,696.0 369.9,703.0 347.0,717.8 344.0,718.1 342.0,717.0 341.2,716.0 340.9,713.0 342.5,711.0 353.0,705.3 367.0,693.9 374.0,690.1Z"/>
<path fill="#b60000" d="M298.7,669.0 300.8,669.0 300.2,671.0 294.9,680.0 290.8,684.0 284.3,688.0 266.0,697.6 263.0,697.8 260.2,696.0 259.5,694.0 260.0,691.1 263.0,687.7 292.0,672.1ZM372.8,693.0 376.0,692.6 376.6,693.0 376.4,694.0 373.3,698.0 368.7,702.0 347.0,716.3 345.0,716.9 342.9,716.0 342.1,714.0 343.2,712.0 354.0,706.3 365.0,697.0Z"/>
<path fill="#9b0000" d="M287.7,677.0 291.0,676.3 291.9,677.0 292.0,678.0 290.5,681.0 287.1,684.0 267.0,695.0 264.0,695.9 261.9,695.0 261.3,694.0 261.4,692.0 263.0,689.9Z"/>
<path fill="#fff" d="M468.5,236.4 474.0,236.3 479.5,236.5 485.0,237.0 490.4,237.8 495.8,238.8 501.1,240.0 506.3,241.5 511.5,243.3 516.6,245.2 521.6,247.4 526.5,249.8 531.3,252.4 536.1,255.1 540.7,258.1 545.2,261.3 549.6,264.6 553.9,268.1 558.0,271.8 562.1,275.6 566.0,279.6 569.7,283.7 573.3,287.9 576.8,292.3 580.0,296.8 583.2,301.3 586.1,306.0 588.9,310.8 591.5,315.7 593.9,320.7 596.1,325.7 598.1,330.8 599.9,336.0 601.6,341.2 602.9,346.5 604.1,351.8 605.1,357.1 605.8,362.5 606.2,367.9 606.5,373.2 606.5,378.6 606.2,384.0 605.8,389.4 605.1,394.8 604.2,400.2 603.2,405.6 601.9,410.9 600.5,416.3 598.9,421.6 597.2,426.9 595.4,432.2 593.4,437.4 591.3,442.7 589.0,447.9 586.7,453.0 584.2,458.1 581.5,463.1 578.8,468.0 575.9,472.8 572.9,477.5 569.7,482.1 566.4,486.6 563.0,491.0 559.4,495.2 555.7,499.3 551.9,503.3 547.9,507.0 543.8,510.6 539.5,514.0 535.1,517.2 530.5,520.2 525.8,523.0 521.0,525.6 516.1,528.0 511.0,530.1 505.9,532.0 500.6,533.7 495.3,535.1 489.9,536.3 484.5,537.3 479.1,538.0 473.7,538.5 468.2,538.7 462.8,538.7 457.3,538.4 451.9,537.9 446.6,537.1 441.3,536.1 436.1,534.8 431.0,533.2 426.0,531.3 421.1,529.2 416.4,526.8 411.7,524.1 407.3,521.1 402.9,518.0 398.7,514.5 394.6,510.9 390.7,507.1 386.9,503.0 383.3,498.8 379.9,494.4 376.6,489.8 373.4,485.1 370.4,480.3 367.6,475.3 365.0,470.3 362.5,465.1 360.2,459.9 358.0,454.6 356.1,449.2 354.3,443.8 352.7,438.4 351.3,432.9 350.0,427.4 349.0,422.0 348.1,416.5 347.4,411.0 346.9,405.5 346.6,400.0 346.4,394.5 346.4,389.1 346.6,383.6 346.9,378.2 347.4,372.8 348.1,367.4 349.0,362.1 350.0,356.7 351.2,351.5 352.5,346.2 354.0,341.0 355.7,335.8 357.5,330.7 359.5,325.6 361.6,320.6 363.9,315.7 366.3,310.8 368.9,306.0 371.7,301.2 374.6,296.5 377.6,291.9 380.8,287.3 384.1,282.9 387.6,278.6 391.2,274.4 394.9,270.3 398.9,266.4 402.9,262.7 407.1,259.1 411.5,255.8 416.0,252.7 420.7,249.8 425.5,247.2 430.5,244.8 435.7,242.7 440.9,240.9 446.3,239.5 451.8,238.3 457.4,237.3 462.9,236.7Z"/>
</g></g>
<line x1="315.4" y1="101.0" x2="736.1" y2="298.8" stroke="#f440e4" stroke-width="8.6"/>
<line x1="249.5" y1="123.2" x2="737.5" y2="318.3" stroke="#f440e4" stroke-width="8.6"/>
<line x1="258.0" y1="668.0" x2="726.7" y2="479.9" stroke="#f440e4" stroke-width="8.6"/>
<line x1="319.0" y1="692.6" x2="740.1" y2="500.0" stroke="#f440e4" stroke-width="8.6"/>
<line x1="375.3" y1="713.7" x2="748.4" y2="515.5" stroke="#f440e4" stroke-width="8.6"/>
<line x1="156.0" y1="68.8" x2="156.0" y2="783.4" stroke="#7d7d7d" stroke-width="1.5"/>
<line x1="758.9" y1="68.8" x2="758.9" y2="783.4" stroke="#a2a2a2" stroke-width="1.9"/>
<line x1="155.3" y1="69.5" x2="759.8" y2="69.5" stroke="#4a4a4a" stroke-width="1.5"/>
<line x1="155.3" y1="782.5" x2="759.8" y2="782.5" stroke="#5a5a5a" stroke-width="1.8"/>
<line x1="151.2" y1="134.0" x2="156.0" y2="134.0" stroke="#222" stroke-width="1.2"/>
<text fill="#000"><tspan x="82.93" y="148.22" style="font-family:'DejaVu Sans','Liberation Sans',sans-serif;font-size:37.63px" textLength="62.03" lengthAdjust="spacingAndGlyphs">0.6</tspan></text>
<line x1="151.2" y1="220.4" x2="156.0" y2="220.4" stroke="#222" stroke-width="1.2"/>
<text fill="#000"><tspan x="82.73" y="234.66" style="font-family:'DejaVu Sans','Liberation Sans',sans-serif;font-size:37.63px" textLength="62.03" lengthAdjust="spacingAndGlyphs">0.4</tspan></text>
<line x1="151.2" y1="306.9" x2="156.0" y2="306.9" stroke="#222" stroke-width="1.2"/>
<text fill="#000"><tspan x="84.49" y="321.10" style="font-family:'DejaVu Sans','Liberation Sans',sans-serif;font-size:37.63px" textLength="62.03" lengthAdjust="spacingAndGlyphs">0.2</tspan></text>
<line x1="151.2" y1="393.3" x2="156.0" y2="393.3" stroke="#222" stroke-width="1.2"/>
<text fill="#000"><tspan x="83.12" y="407.54" style="font-family:'DejaVu Sans','Liberation Sans',sans-serif;font-size:37.63px" textLength="62.03" lengthAdjust="spacingAndGlyphs">0.0</tspan></text>
<line x1="151.2" y1="479.7" x2="156.0" y2="479.7" stroke="#222" stroke-width="1.2"/>
<text fill="#000"><tspan x="51.92" y="493.98" style="font-family:'DejaVu Sans','Liberation Sans',sans-serif;font-size:37.63px" textLength="94.70" lengthAdjust="spacingAndGlyphs">−0.2</tspan></text>
<line x1="151.2" y1="566.2" x2="156.0" y2="566.2" stroke="#222" stroke-width="1.2"/>
<text fill="#000"><tspan x="50.17" y="580.42" style="font-family:'DejaVu Sans','Liberation Sans',sans-serif;font-size:37.63px" textLength="94.70" lengthAdjust="spacingAndGlyphs">−0.4</tspan></text>
<line x1="151.2" y1="652.6" x2="156.0" y2="652.6" stroke="#222" stroke-width="1.2"/>
<text fill="#000"><tspan x="50.36" y="666.86" style="font-family:'DejaVu Sans','Liberation Sans',sans-serif;font-size:37.63px" textLength="94.70" lengthAdjust="spacingAndGlyphs">−0.6</tspan></text>
<line x1="151.2" y1="739.1" x2="156.0" y2="739.1" stroke="#222" stroke-width="1.2"/>
<text fill="#000"><tspan x="50.56" y="753.30" style="font-family:'DejaVu Sans','Liberation Sans',sans-serif;font-size:37.63px" textLength="94.70" lengthAdjust="spacingAndGlyphs">−0.8</tspan></text>
<line x1="242.6" y1="782.5" x2="242.6" y2="787.5" stroke="#222" stroke-width="1.2"/>
<text fill="#000"><tspan x="209.70" y="822.73" style="font-family:'DejaVu Sans','Liberation Sans',sans-serif;font-size:38.02px" textLength="62.03" lengthAdjust="spacingAndGlyphs">2.0</tspan></text>
<line x1="458.6" y1="782.5" x2="458.6" y2="787.5" stroke="#222" stroke-width="1.2"/>
<text fill="#000"><tspan x="426.09" y="822.73" style="font-family:'DejaVu Sans','Liberation Sans',sans-serif;font-size:38.02px" textLength="62.03" lengthAdjust="spacingAndGlyphs">2.5</tspan></text>
<line x1="674.6" y1="782.5" x2="674.6" y2="787.5" stroke="#222" stroke-width="1.2"/>
<text fill="#000"><tspan x="641.70" y="822.73" style="font-family:'DejaVu Sans','Liberation Sans',sans-serif;font-size:38.02px" textLength="62.03" lengthAdjust="spacingAndGlyphs">3.0</tspan></text>
<text fill="#000" stroke="#000" stroke-width="0.50"><tspan x="403.58" y="884.70" style="font-family:'Liberation Serif','DejaVu Serif',serif;font-style:italic;font-size:44.58px" textLength="21.48" lengthAdjust="spacingAndGlyphs">R</tspan><tspan> </tspan><tspan x="445.55" y="882.67" style="font-family:'Liberation Serif','DejaVu Serif',serif;font-style:italic;font-size:47.58px" textLength="10.94" lengthAdjust="spacingAndGlyphs">(</tspan><tspan x="458.90" y="884.70" style="font-family:'Liberation Serif','DejaVu Serif',serif;font-style:italic;font-size:43.62px" textLength="39.30" lengthAdjust="spacingAndGlyphs">m</tspan><tspan x="503.51" y="882.67" style="font-family:'Liberation Serif','DejaVu Serif',serif;font-style:italic;font-size:47.58px" textLength="13.42" lengthAdjust="spacingAndGlyphs">)</tspan></text>
<rect x="0" y="360" width="61.3" height="140" fill="#fff"/>
<text transform="rotate(-90)" fill="#000" stroke="#000" stroke-width="0.50"><tspan x="-481.74" y="35.70" style="font-family:'Liberation Serif','DejaVu Serif',serif;font-style:italic;font-size:44.89px" textLength="24.25" lengthAdjust="spacingAndGlyphs">Z</tspan><tspan> </tspan><tspan x="-441.51" y="33.51" style="font-family:'Liberation Serif','DejaVu Serif',serif;font-size:45.05px" textLength="16.33" lengthAdjust="spacingAndGlyphs">(</tspan><tspan x="-426.09" y="35.70" style="font-family:'Liberation Serif','DejaVu Serif',serif;font-style:italic;font-size:43.62px" textLength="40.98" lengthAdjust="spacingAndGlyphs">m</tspan><tspan x="-386.35" y="33.51" style="font-family:'Liberation Serif','DejaVu Serif',serif;font-size:45.05px" textLength="17.16" lengthAdjust="spacingAndGlyphs">)</tspan></text>
<text fill="#000" stroke="#000" stroke-width="0.70"><tspan x="248.35" y="107.80" style="font-family:'Liberation Serif','DejaVu Serif',serif;font-size:70.30px" textLength="62.97" lengthAdjust="spacingAndGlyphs">15</tspan></text>
<text fill="#fff" stroke="#fff" stroke-width="0.70"><tspan x="204.26" y="207.70" style="font-family:'Liberation Serif','DejaVu Serif',serif;font-size:71.97px" textLength="67.56" lengthAdjust="spacingAndGlyphs">14</tspan></text>
<text fill="#fff" stroke="#fff" stroke-width="0.70"><tspan x="216.37" y="641.50" style="font-family:'Liberation Serif','DejaVu Serif',serif;font-size:70.15px" textLength="32.53" lengthAdjust="spacingAndGlyphs">3</tspan></text>
<text fill="#000" stroke="#000" stroke-width="0.70"><tspan x="299.29" y="767.70" style="font-family:'Liberation Serif','DejaVu Serif',serif;font-size:69.24px" textLength="36.75" lengthAdjust="spacingAndGlyphs">2</tspan></text>
<text fill="#000" stroke="#000" stroke-width="0.70"><tspan x="367.59" y="774.70" style="font-family:'Liberation Serif','DejaVu Serif',serif;font-size:69.24px" textLength="24.79" lengthAdjust="spacingAndGlyphs">1</tspan></text>
<rect x="789.5" y="69.5" width="36.0" height="713.0" fill="url(#jet)"/>
<line x1="825.5" y1="757.1" x2="828.5" y2="757.1" stroke="#333" stroke-width="1.1"/>
<line x1="825.5" y1="734.1" x2="828.5" y2="734.1" stroke="#333" stroke-width="1.1"/>
<line x1="825.5" y1="715.2" x2="828.5" y2="715.2" stroke="#333" stroke-width="1.1"/>
<line x1="825.5" y1="699.3" x2="828.5" y2="699.3" stroke="#333" stroke-width="1.1"/>
<line x1="825.5" y1="685.5" x2="828.5" y2="685.5" stroke="#333" stroke-width="1.1"/>
<line x1="825.5" y1="673.3" x2="828.5" y2="673.3" stroke="#333" stroke-width="1.1"/>
<line x1="825.5" y1="662.4" x2="830.3" y2="662.4" stroke="#333" stroke-width="1.1"/>
<line x1="825.5" y1="590.7" x2="828.5" y2="590.7" stroke="#333" stroke-width="1.1"/>
<line x1="825.5" y1="548.8" x2="828.5" y2="548.8" stroke="#333" stroke-width="1.1"/>
<line x1="825.5" y1="519.0" x2="828.5" y2="519.0" stroke="#333" stroke-width="1.1"/>
<line x1="825.5" y1="496.0" x2="828.5" y2="496.0" stroke="#333" stroke-width="1.1"/>
<line x1="825.5" y1="477.1" x2="828.5" y2="477.1" stroke="#333" stroke-width="1.1"/>
<line x1="825.5" y1="461.2" x2="828.5" y2="461.2" stroke="#333" stroke-width="1.1"/>
<line x1="825.5" y1="447.4" x2="828.5" y2="447.4" stroke="#333" stroke-width="1.1"/>
<line x1="825.5" y1="435.2" x2="828.5" y2="435.2" stroke="#333" stroke-width="1.1"/>
<line x1="825.5" y1="424.3" x2="830.3" y2="424.3" stroke="#333" stroke-width="1.1"/>
<line x1="825.5" y1="352.6" x2="828.5" y2="352.6" stroke="#333" stroke-width="1.1"/>
<line x1="825.5" y1="310.7" x2="828.5" y2="310.7" stroke="#333" stroke-width="1.1"/>
<line x1="825.5" y1="280.9" x2="828.5" y2="280.9" stroke="#333" stroke-width="1.1"/>
<line x1="825.5" y1="257.9" x2="828.5" y2="257.9" stroke="#333" stroke-width="1.1"/>
<line x1="825.5" y1="239.0" x2="828.5" y2="239.0" stroke="#333" stroke-width="1.1"/>
<line x1="825.5" y1="223.1" x2="828.5" y2="223.1" stroke="#333" stroke-width="1.1"/>
<line x1="825.5" y1="209.3" x2="828.5" y2="209.3" stroke="#333" stroke-width="1.1"/>
<line x1="825.5" y1="197.1" x2="828.5" y2="197.1" stroke="#333" stroke-width="1.1"/>
<line x1="825.5" y1="186.2" x2="830.3" y2="186.2" stroke="#333" stroke-width="1.1"/>
<line x1="825.5" y1="114.5" x2="828.5" y2="114.5" stroke="#333" stroke-width="1.1"/>
<line x1="825.5" y1="72.6" x2="828.5" y2="72.6" stroke="#333" stroke-width="1.1"/>
<text fill="#000" stroke="#000" stroke-width="0.40"><tspan x="838.29" y="203.87" style="font-family:'Liberation Serif','DejaVu Serif',serif;font-size:53.19px" textLength="58.97" lengthAdjust="spacingAndGlyphs">10</tspan><tspan x="896.18" y="183.64" style="font-family:'Liberation Serif','DejaVu Serif',serif;font-size:36.09px" textLength="23.50" lengthAdjust="spacingAndGlyphs">5</tspan></text>
<text fill="#000" stroke="#000" stroke-width="0.40"><tspan x="838.29" y="441.97" style="font-family:'Liberation Serif','DejaVu Serif',serif;font-size:53.19px" textLength="58.97" lengthAdjust="spacingAndGlyphs">10</tspan><tspan x="898.19" y="422.10" style="font-family:'Liberation Serif','DejaVu Serif',serif;font-size:36.36px" textLength="20.22" lengthAdjust="spacingAndGlyphs">4</tspan></text>
<text fill="#000" stroke="#000" stroke-width="0.40"><tspan x="838.29" y="680.07" style="font-family:'Liberation Serif','DejaVu Serif',serif;font-size:53.19px" textLength="58.97" lengthAdjust="spacingAndGlyphs">10</tspan><tspan x="896.96" y="659.84" style="font-family:'Liberation Serif','DejaVu Serif',serif;font-size:35.82px" textLength="22.65" lengthAdjust="spacingAndGlyphs">3</tspan></text>
<text fill="#000" stroke="#000" stroke-width="0.55"><tspan x="716.13" y="42.80" style="font-family:'Liberation Serif','DejaVu Serif',serif;font-style:italic;font-size:48.40px" textLength="27.85" lengthAdjust="spacingAndGlyphs">P</tspan><tspan x="746.63" y="52.21" style="font-family:'Liberation Serif','DejaVu Serif',serif;font-size:38.58px" textLength="61.74" lengthAdjust="spacingAndGlyphs">rad</tspan><tspan> </tspan><tspan x="824.56" y="42.65" style="font-family:'Liberation Serif','DejaVu Serif',serif;font-size:52.31px" textLength="16.59" lengthAdjust="spacingAndGlyphs">(</tspan><tspan x="844.30" y="42.50" style="font-family:'Liberation Serif','DejaVu Serif',serif;font-size:46.57px" textLength="47.69" lengthAdjust="spacingAndGlyphs">W</tspan><tspan> </tspan><tspan x="904.99" y="42.80" style="font-family:'Liberation Serif','DejaVu Serif',serif;font-size:40.43px" textLength="43.01" lengthAdjust="spacingAndGlyphs">m</tspan><tspan x="956.36" y="26.16" style="font-family:'Liberation Serif','DejaVu Serif',serif;font-size:32.00px" textLength="23.04" lengthAdjust="spacingAndGlyphs">−</tspan><tspan x="980.49" y="26.90" style="font-family:'Liberation Serif','DejaVu Serif',serif;font-size:30.15px" textLength="19.04" lengthAdjust="spacingAndGlyphs">3</tspan><tspan x="1004.53" y="42.65" style="font-family:'Liberation Serif','DejaVu Serif',serif;font-size:52.31px" textLength="16.27" lengthAdjust="spacingAndGlyphs">)</tspan></text>
</svg>
</body></html>
